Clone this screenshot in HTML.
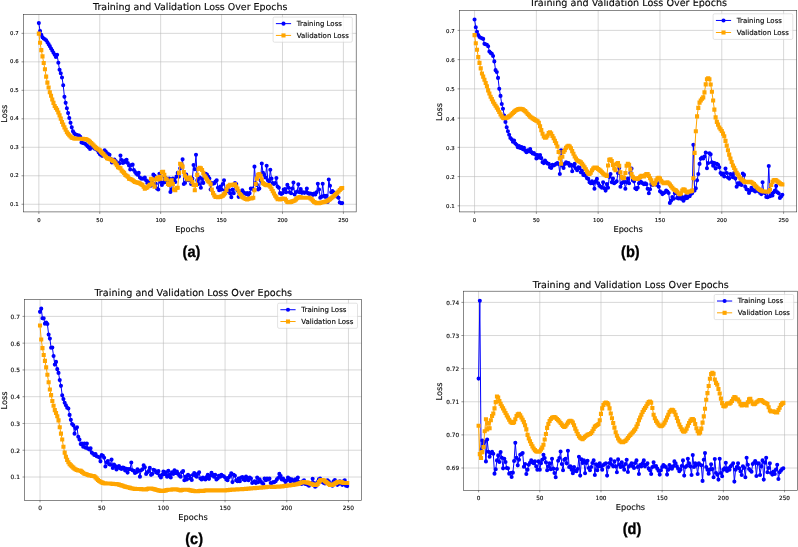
<!DOCTYPE html>
<html lang="en"><head><meta charset="utf-8"><title>Training and Validation Loss Over Epochs</title>
<style>
html,body{margin:0;padding:0;background:#fff}
body{width:798px;height:547px;overflow:hidden}
svg{display:block}
svg text{font-family:"DejaVu Sans","Liberation Sans",sans-serif;fill:#0a0a0a;stroke:#0a0a0a;stroke-width:0.14px;text-rendering:geometricPrecision}
svg text.cap{font-family:"Liberation Sans",sans-serif;font-weight:bold;font-size:16px;fill:#000;stroke:#000;stroke-width:0.35px}
</style></head><body>
<svg width="798" height="547" viewBox="0 0 798 547">
<rect width="798" height="547" fill="#fff"/>
<g class="chart" id="chart-a">
<path d="M38.85 14.40V211.90M99.76 14.40V211.90M160.67 14.40V211.90M221.58 14.40V211.90M282.49 14.40V211.90M343.40 14.40V211.90M23.50 204.25H356.20M23.50 175.77H356.20M23.50 147.28H356.20M23.50 118.80H356.20M23.50 90.32H356.20M23.50 61.83H356.20M23.50 33.35H356.20" stroke="#b8b8b8" stroke-width="0.55" fill="none"/>
<clipPath id="clip-a"><rect x="23.5" y="14.4" width="332.7" height="197.5"/></clipPath>
<g clip-path="url(#clip-a)">
<polyline points="38.85,23.10 40.07,31.07 41.29,34.77 42.50,37.34 43.72,38.48 44.94,39.33 46.16,40.19 47.38,42.18 48.60,44.17 49.81,46.17 51.03,48.45 52.25,50.44 53.47,52.72 54.69,54.71 55.90,56.99 57.12,54.71 58.34,62.69 59.56,69.81 60.78,73.23 62.00,77.50 63.21,85.19 64.43,96.87 65.65,102.85 66.87,108.26 68.09,113.10 69.30,117.95 70.52,122.79 71.74,127.34 72.96,131.33 74.18,133.33 75.40,134.47 76.61,134.75 77.83,135.32 79.05,135.61 80.27,136.74 81.49,142.44 82.71,143.01 83.92,143.30 85.14,143.87 86.36,145.00 87.58,146.14 88.80,147.57 90.01,148.99 91.23,146.71 92.45,147.28 93.67,147.85 94.89,148.71 96.11,149.28 97.32,150.13 98.54,152.13 99.76,154.12 100.98,154.97 102.20,155.83 103.41,152.98 104.63,150.42 105.85,151.84 107.07,153.26 108.29,154.12 109.51,154.69 110.72,158.68 111.94,162.38 113.16,160.96 114.38,159.53 115.60,160.96 116.81,162.38 118.03,162.95 119.25,163.52 120.47,155.54 121.69,160.10 122.91,162.95 124.12,162.38 125.34,160.67 126.56,159.82 127.78,162.95 129.00,165.51 130.21,169.50 131.43,164.94 132.65,164.66 133.87,170.07 135.09,172.06 136.31,173.77 137.52,174.63 138.74,172.92 139.96,177.48 141.18,178.62 142.40,178.62 143.62,178.62 144.83,177.48 146.05,180.32 147.27,182.89 148.49,181.46 149.71,184.31 150.92,185.74 152.14,182.89 153.36,174.63 154.58,175.77 155.80,183.74 157.02,188.58 158.23,189.44 159.45,173.77 160.67,182.03 161.89,184.88 163.11,182.89 164.32,176.62 165.54,182.03 166.76,178.62 167.98,182.03 169.20,178.62 170.42,192.00 171.63,189.44 172.85,178.62 174.07,179.47 175.29,182.03 176.51,176.62 177.72,172.92 178.94,176.62 180.16,168.36 181.38,164.37 182.60,159.25 183.82,184.03 185.03,182.89 186.25,174.63 187.47,180.04 188.69,180.32 189.91,179.75 191.12,184.03 192.34,178.62 193.56,164.94 194.78,169.22 196.00,154.69 197.22,180.32 198.43,184.03 199.65,177.48 200.87,187.73 202.09,178.62 203.31,182.89 204.53,174.63 205.74,173.77 206.96,174.63 208.18,176.62 209.40,178.62 210.62,189.44 211.83,183.17 213.05,183.74 214.27,183.17 215.49,181.46 216.71,180.32 217.93,187.73 219.14,190.29 220.36,186.59 221.58,189.44 222.80,184.03 224.02,180.32 225.23,190.29 226.45,191.43 227.67,187.73 228.89,190.29 230.11,193.14 231.33,197.13 232.54,189.44 233.76,193.14 234.98,183.17 236.20,184.03 237.42,190.29 238.63,196.84 239.85,192.29 241.07,193.14 242.29,190.29 243.51,192.29 244.73,193.14 245.94,194.00 247.16,193.14 248.38,194.85 249.60,193.14 250.82,188.58 252.03,188.58 253.25,189.44 254.47,166.65 255.69,183.17 256.91,184.88 258.13,189.44 259.34,188.58 260.56,180.32 261.78,163.52 263.00,172.92 264.22,174.91 265.44,177.48 266.65,165.80 267.87,180.32 269.09,181.46 270.31,169.79 271.53,178.62 272.74,183.17 273.96,184.03 275.18,183.17 276.40,178.05 277.62,186.59 278.84,187.73 280.05,193.14 281.27,194.00 282.49,193.14 283.71,189.44 284.93,189.15 286.14,192.29 287.36,184.88 288.58,187.73 289.80,192.29 291.02,193.14 292.24,188.58 293.45,182.60 294.67,194.57 295.89,192.29 297.11,191.43 298.33,184.31 299.54,192.29 300.76,189.15 301.98,192.86 303.20,192.29 304.42,192.86 305.64,192.29 306.85,188.58 308.07,193.14 309.29,194.00 310.51,193.43 311.73,194.00 312.94,194.85 314.16,193.43 315.38,194.57 316.60,192.29 317.82,183.74 319.04,189.44 320.25,197.70 321.47,196.84 322.69,183.74 323.91,195.70 325.13,196.84 326.35,195.70 327.56,201.97 328.78,179.47 330.00,185.74 331.22,192.29 332.44,191.15 333.65,192.29 334.87,194.00 336.09,195.70 337.31,196.84 338.53,197.70 339.75,202.54 340.96,203.11 342.18,203.11" fill="none" stroke="#0000ff" stroke-width="1.0" stroke-linejoin="round"/>
<path d="M38.85 23.10h0M40.07 31.07h0M41.29 34.77h0M42.50 37.34h0M43.72 38.48h0M44.94 39.33h0M46.16 40.19h0M47.38 42.18h0M48.60 44.17h0M49.81 46.17h0M51.03 48.45h0M52.25 50.44h0M53.47 52.72h0M54.69 54.71h0M55.90 56.99h0M57.12 54.71h0M58.34 62.69h0M59.56 69.81h0M60.78 73.23h0M62.00 77.50h0M63.21 85.19h0M64.43 96.87h0M65.65 102.85h0M66.87 108.26h0M68.09 113.10h0M69.30 117.95h0M70.52 122.79h0M71.74 127.34h0M72.96 131.33h0M74.18 133.33h0M75.40 134.47h0M76.61 134.75h0M77.83 135.32h0M79.05 135.61h0M80.27 136.74h0M81.49 142.44h0M82.71 143.01h0M83.92 143.30h0M85.14 143.87h0M86.36 145.00h0M87.58 146.14h0M88.80 147.57h0M90.01 148.99h0M91.23 146.71h0M92.45 147.28h0M93.67 147.85h0M94.89 148.71h0M96.11 149.28h0M97.32 150.13h0M98.54 152.13h0M99.76 154.12h0M100.98 154.97h0M102.20 155.83h0M103.41 152.98h0M104.63 150.42h0M105.85 151.84h0M107.07 153.26h0M108.29 154.12h0M109.51 154.69h0M110.72 158.68h0M111.94 162.38h0M113.16 160.96h0M114.38 159.53h0M115.60 160.96h0M116.81 162.38h0M118.03 162.95h0M119.25 163.52h0M120.47 155.54h0M121.69 160.10h0M122.91 162.95h0M124.12 162.38h0M125.34 160.67h0M126.56 159.82h0M127.78 162.95h0M129.00 165.51h0M130.21 169.50h0M131.43 164.94h0M132.65 164.66h0M133.87 170.07h0M135.09 172.06h0M136.31 173.77h0M137.52 174.63h0M138.74 172.92h0M139.96 177.48h0M141.18 178.62h0M142.40 178.62h0M143.62 178.62h0M144.83 177.48h0M146.05 180.32h0M147.27 182.89h0M148.49 181.46h0M149.71 184.31h0M150.92 185.74h0M152.14 182.89h0M153.36 174.63h0M154.58 175.77h0M155.80 183.74h0M157.02 188.58h0M158.23 189.44h0M159.45 173.77h0M160.67 182.03h0M161.89 184.88h0M163.11 182.89h0M164.32 176.62h0M165.54 182.03h0M166.76 178.62h0M167.98 182.03h0M169.20 178.62h0M170.42 192.00h0M171.63 189.44h0M172.85 178.62h0M174.07 179.47h0M175.29 182.03h0M176.51 176.62h0M177.72 172.92h0M178.94 176.62h0M180.16 168.36h0M181.38 164.37h0M182.60 159.25h0M183.82 184.03h0M185.03 182.89h0M186.25 174.63h0M187.47 180.04h0M188.69 180.32h0M189.91 179.75h0M191.12 184.03h0M192.34 178.62h0M193.56 164.94h0M194.78 169.22h0M196.00 154.69h0M197.22 180.32h0M198.43 184.03h0M199.65 177.48h0M200.87 187.73h0M202.09 178.62h0M203.31 182.89h0M204.53 174.63h0M205.74 173.77h0M206.96 174.63h0M208.18 176.62h0M209.40 178.62h0M210.62 189.44h0M211.83 183.17h0M213.05 183.74h0M214.27 183.17h0M215.49 181.46h0M216.71 180.32h0M217.93 187.73h0M219.14 190.29h0M220.36 186.59h0M221.58 189.44h0M222.80 184.03h0M224.02 180.32h0M225.23 190.29h0M226.45 191.43h0M227.67 187.73h0M228.89 190.29h0M230.11 193.14h0M231.33 197.13h0M232.54 189.44h0M233.76 193.14h0M234.98 183.17h0M236.20 184.03h0M237.42 190.29h0M238.63 196.84h0M239.85 192.29h0M241.07 193.14h0M242.29 190.29h0M243.51 192.29h0M244.73 193.14h0M245.94 194.00h0M247.16 193.14h0M248.38 194.85h0M249.60 193.14h0M250.82 188.58h0M252.03 188.58h0M253.25 189.44h0M254.47 166.65h0M255.69 183.17h0M256.91 184.88h0M258.13 189.44h0M259.34 188.58h0M260.56 180.32h0M261.78 163.52h0M263.00 172.92h0M264.22 174.91h0M265.44 177.48h0M266.65 165.80h0M267.87 180.32h0M269.09 181.46h0M270.31 169.79h0M271.53 178.62h0M272.74 183.17h0M273.96 184.03h0M275.18 183.17h0M276.40 178.05h0M277.62 186.59h0M278.84 187.73h0M280.05 193.14h0M281.27 194.00h0M282.49 193.14h0M283.71 189.44h0M284.93 189.15h0M286.14 192.29h0M287.36 184.88h0M288.58 187.73h0M289.80 192.29h0M291.02 193.14h0M292.24 188.58h0M293.45 182.60h0M294.67 194.57h0M295.89 192.29h0M297.11 191.43h0M298.33 184.31h0M299.54 192.29h0M300.76 189.15h0M301.98 192.86h0M303.20 192.29h0M304.42 192.86h0M305.64 192.29h0M306.85 188.58h0M308.07 193.14h0M309.29 194.00h0M310.51 193.43h0M311.73 194.00h0M312.94 194.85h0M314.16 193.43h0M315.38 194.57h0M316.60 192.29h0M317.82 183.74h0M319.04 189.44h0M320.25 197.70h0M321.47 196.84h0M322.69 183.74h0M323.91 195.70h0M325.13 196.84h0M326.35 195.70h0M327.56 201.97h0M328.78 179.47h0M330.00 185.74h0M331.22 192.29h0M332.44 191.15h0M333.65 192.29h0M334.87 194.00h0M336.09 195.70h0M337.31 196.84h0M338.53 197.70h0M339.75 202.54h0M340.96 203.11h0M342.18 203.11h0" stroke="#0000ff" stroke-width="4.1" stroke-linecap="round" fill="none"/>
</g>
<g clip-path="url(#clip-a)">
<polyline points="38.85,33.63 40.07,42.75 41.29,50.16 42.50,56.42 43.72,62.97 44.94,69.24 46.16,76.64 47.38,82.63 48.60,87.47 49.81,92.31 51.03,95.73 52.25,99.43 53.47,102.85 54.69,105.98 55.90,107.98 57.12,109.69 58.34,112.53 59.56,115.38 60.78,118.66 62.00,121.93 63.21,124.64 64.43,127.34 65.65,129.77 66.87,132.19 68.09,133.75 69.30,135.32 70.52,136.46 71.74,137.60 72.96,138.03 74.18,138.45 75.40,138.60 76.61,138.74 77.83,138.74 79.05,138.74 80.27,138.74 81.49,138.74 82.71,138.88 83.92,139.02 85.14,139.17 86.36,139.31 87.58,140.02 88.80,140.73 90.01,141.87 91.23,143.01 92.45,144.29 93.67,145.57 94.89,146.71 96.11,147.85 97.32,148.71 98.54,149.56 99.76,150.42 100.98,151.65 102.20,152.89 103.41,154.12 104.63,155.45 105.85,156.78 107.07,158.11 108.29,158.58 109.51,159.06 110.72,159.53 111.94,160.20 113.16,160.86 114.38,161.53 115.60,163.42 116.81,165.32 118.03,167.22 119.25,167.79 120.47,168.36 121.69,170.64 122.91,171.78 124.12,172.92 125.34,174.91 126.56,175.77 127.78,176.62 129.00,178.62 130.21,179.04 131.43,179.47 132.65,180.32 133.87,181.18 135.09,182.03 136.31,182.32 137.52,182.60 138.74,182.89 139.96,183.55 141.18,184.22 142.40,184.88 143.62,186.73 144.83,188.58 146.05,188.01 147.27,187.44 148.49,186.16 149.71,184.88 150.92,178.90 152.14,184.03 153.36,179.47 154.58,186.59 155.80,179.47 157.02,178.05 158.23,179.47 159.45,176.91 160.67,178.62 161.89,172.06 163.11,171.78 164.32,174.91 165.54,178.90 166.76,179.47 167.98,184.03 169.20,184.88 170.42,181.18 171.63,180.32 172.85,184.03 174.07,189.44 175.29,190.29 176.51,188.01 177.72,187.73 178.94,172.92 180.16,163.80 181.38,164.66 182.60,166.65 183.82,172.06 185.03,175.77 186.25,177.48 187.47,179.47 188.69,178.05 189.91,177.48 191.12,179.47 192.34,182.03 193.56,184.88 194.78,190.29 196.00,184.88 197.22,174.91 198.43,168.93 199.65,167.79 200.87,168.36 202.09,170.07 203.31,172.92 204.53,175.77 205.74,177.48 206.96,179.47 208.18,181.18 209.40,182.32 210.62,184.31 211.83,189.44 213.05,193.14 214.27,195.42 215.49,196.84 216.71,196.99 217.93,197.13 219.14,196.99 220.36,196.84 221.58,196.27 222.80,195.70 224.02,194.42 225.23,193.14 226.45,189.87 227.67,186.59 228.89,185.74 230.11,184.88 231.33,184.88 232.54,184.88 233.76,184.60 234.98,184.31 236.20,186.45 237.42,188.58 238.63,191.29 239.85,194.00 241.07,195.42 242.29,196.84 243.51,197.70 244.73,198.55 245.94,198.98 247.16,199.41 248.38,198.98 249.60,198.55 250.82,198.41 252.03,198.27 253.25,197.70 254.47,190.29 255.69,184.03 256.91,178.62 258.13,174.91 259.34,174.06 260.56,175.77 261.78,179.47 263.00,183.17 264.22,184.03 265.44,184.88 266.65,185.17 267.87,185.17 269.09,185.45 270.31,186.59 271.53,188.87 272.74,191.15 273.96,193.43 275.18,195.70 276.40,197.41 277.62,199.12 278.84,199.27 280.05,199.41 281.27,198.98 282.49,198.55 283.71,198.70 284.93,198.84 286.14,200.40 287.36,201.97 288.58,202.11 289.80,202.26 291.02,201.83 292.24,201.40 293.45,200.97 294.67,200.55 295.89,199.41 297.11,198.27 298.33,197.70 299.54,197.13 300.76,197.41 301.98,197.70 303.20,197.70 304.42,197.70 305.64,197.70 306.85,197.70 308.07,197.70 309.29,197.70 310.51,198.55 311.73,199.41 312.94,200.69 314.16,201.97 315.38,202.54 316.60,203.11 317.82,203.11 319.04,203.11 320.25,202.83 321.47,202.54 322.69,202.26 323.91,201.97 325.13,201.69 326.35,201.40 327.56,200.69 328.78,199.98 330.00,199.12 331.22,198.27 332.44,197.27 333.65,196.27 334.87,195.14 336.09,194.00 337.31,192.71 338.53,191.43 339.75,190.01 340.96,188.58 342.18,188.01" fill="none" stroke="#ffa500" stroke-width="1.0" stroke-linejoin="round"/>
<path d="M36.80 33.63h4.1M38.02 42.75h4.1M39.24 50.16h4.1M40.45 56.42h4.1M41.67 62.97h4.1M42.89 69.24h4.1M44.11 76.64h4.1M45.33 82.63h4.1M46.55 87.47h4.1M47.76 92.31h4.1M48.98 95.73h4.1M50.20 99.43h4.1M51.42 102.85h4.1M52.64 105.98h4.1M53.85 107.98h4.1M55.07 109.69h4.1M56.29 112.53h4.1M57.51 115.38h4.1M58.73 118.66h4.1M59.95 121.93h4.1M61.16 124.64h4.1M62.38 127.34h4.1M63.60 129.77h4.1M64.82 132.19h4.1M66.04 133.75h4.1M67.25 135.32h4.1M68.47 136.46h4.1M69.69 137.60h4.1M70.91 138.03h4.1M72.13 138.45h4.1M73.35 138.60h4.1M74.56 138.74h4.1M75.78 138.74h4.1M77.00 138.74h4.1M78.22 138.74h4.1M79.44 138.74h4.1M80.66 138.88h4.1M81.87 139.02h4.1M83.09 139.17h4.1M84.31 139.31h4.1M85.53 140.02h4.1M86.75 140.73h4.1M87.96 141.87h4.1M89.18 143.01h4.1M90.40 144.29h4.1M91.62 145.57h4.1M92.84 146.71h4.1M94.06 147.85h4.1M95.27 148.71h4.1M96.49 149.56h4.1M97.71 150.42h4.1M98.93 151.65h4.1M100.15 152.89h4.1M101.36 154.12h4.1M102.58 155.45h4.1M103.80 156.78h4.1M105.02 158.11h4.1M106.24 158.58h4.1M107.46 159.06h4.1M108.67 159.53h4.1M109.89 160.20h4.1M111.11 160.86h4.1M112.33 161.53h4.1M113.55 163.42h4.1M114.76 165.32h4.1M115.98 167.22h4.1M117.20 167.79h4.1M118.42 168.36h4.1M119.64 170.64h4.1M120.86 171.78h4.1M122.07 172.92h4.1M123.29 174.91h4.1M124.51 175.77h4.1M125.73 176.62h4.1M126.95 178.62h4.1M128.16 179.04h4.1M129.38 179.47h4.1M130.60 180.32h4.1M131.82 181.18h4.1M133.04 182.03h4.1M134.26 182.32h4.1M135.47 182.60h4.1M136.69 182.89h4.1M137.91 183.55h4.1M139.13 184.22h4.1M140.35 184.88h4.1M141.57 186.73h4.1M142.78 188.58h4.1M144.00 188.01h4.1M145.22 187.44h4.1M146.44 186.16h4.1M147.66 184.88h4.1M148.87 178.90h4.1M150.09 184.03h4.1M151.31 179.47h4.1M152.53 186.59h4.1M153.75 179.47h4.1M154.97 178.05h4.1M156.18 179.47h4.1M157.40 176.91h4.1M158.62 178.62h4.1M159.84 172.06h4.1M161.06 171.78h4.1M162.27 174.91h4.1M163.49 178.90h4.1M164.71 179.47h4.1M165.93 184.03h4.1M167.15 184.88h4.1M168.37 181.18h4.1M169.58 180.32h4.1M170.80 184.03h4.1M172.02 189.44h4.1M173.24 190.29h4.1M174.46 188.01h4.1M175.67 187.73h4.1M176.89 172.92h4.1M178.11 163.80h4.1M179.33 164.66h4.1M180.55 166.65h4.1M181.77 172.06h4.1M182.98 175.77h4.1M184.20 177.48h4.1M185.42 179.47h4.1M186.64 178.05h4.1M187.86 177.48h4.1M189.07 179.47h4.1M190.29 182.03h4.1M191.51 184.88h4.1M192.73 190.29h4.1M193.95 184.88h4.1M195.17 174.91h4.1M196.38 168.93h4.1M197.60 167.79h4.1M198.82 168.36h4.1M200.04 170.07h4.1M201.26 172.92h4.1M202.48 175.77h4.1M203.69 177.48h4.1M204.91 179.47h4.1M206.13 181.18h4.1M207.35 182.32h4.1M208.57 184.31h4.1M209.78 189.44h4.1M211.00 193.14h4.1M212.22 195.42h4.1M213.44 196.84h4.1M214.66 196.99h4.1M215.88 197.13h4.1M217.09 196.99h4.1M218.31 196.84h4.1M219.53 196.27h4.1M220.75 195.70h4.1M221.97 194.42h4.1M223.18 193.14h4.1M224.40 189.87h4.1M225.62 186.59h4.1M226.84 185.74h4.1M228.06 184.88h4.1M229.28 184.88h4.1M230.49 184.88h4.1M231.71 184.60h4.1M232.93 184.31h4.1M234.15 186.45h4.1M235.37 188.58h4.1M236.58 191.29h4.1M237.80 194.00h4.1M239.02 195.42h4.1M240.24 196.84h4.1M241.46 197.70h4.1M242.68 198.55h4.1M243.89 198.98h4.1M245.11 199.41h4.1M246.33 198.98h4.1M247.55 198.55h4.1M248.77 198.41h4.1M249.98 198.27h4.1M251.20 197.70h4.1M252.42 190.29h4.1M253.64 184.03h4.1M254.86 178.62h4.1M256.08 174.91h4.1M257.29 174.06h4.1M258.51 175.77h4.1M259.73 179.47h4.1M260.95 183.17h4.1M262.17 184.03h4.1M263.39 184.88h4.1M264.60 185.17h4.1M265.82 185.17h4.1M267.04 185.45h4.1M268.26 186.59h4.1M269.48 188.87h4.1M270.69 191.15h4.1M271.91 193.43h4.1M273.13 195.70h4.1M274.35 197.41h4.1M275.57 199.12h4.1M276.79 199.27h4.1M278.00 199.41h4.1M279.22 198.98h4.1M280.44 198.55h4.1M281.66 198.70h4.1M282.88 198.84h4.1M284.09 200.40h4.1M285.31 201.97h4.1M286.53 202.11h4.1M287.75 202.26h4.1M288.97 201.83h4.1M290.19 201.40h4.1M291.40 200.97h4.1M292.62 200.55h4.1M293.84 199.41h4.1M295.06 198.27h4.1M296.28 197.70h4.1M297.49 197.13h4.1M298.71 197.41h4.1M299.93 197.70h4.1M301.15 197.70h4.1M302.37 197.70h4.1M303.59 197.70h4.1M304.80 197.70h4.1M306.02 197.70h4.1M307.24 197.70h4.1M308.46 198.55h4.1M309.68 199.41h4.1M310.89 200.69h4.1M312.11 201.97h4.1M313.33 202.54h4.1M314.55 203.11h4.1M315.77 203.11h4.1M316.99 203.11h4.1M318.20 202.83h4.1M319.42 202.54h4.1M320.64 202.26h4.1M321.86 201.97h4.1M323.08 201.69h4.1M324.30 201.40h4.1M325.51 200.69h4.1M326.73 199.98h4.1M327.95 199.12h4.1M329.17 198.27h4.1M330.39 197.27h4.1M331.60 196.27h4.1M332.82 195.14h4.1M334.04 194.00h4.1M335.26 192.71h4.1M336.48 191.43h4.1M337.70 190.01h4.1M338.91 188.58h4.1M340.13 188.01h4.1" stroke="#ffa500" stroke-width="4.1" fill="none"/>
</g>
<rect x="23.5" y="14.4" width="332.7" height="197.5" fill="none" stroke="#3a3a3a" stroke-width="0.6"/>
<path d="M38.85 211.90v2M99.76 211.90v2M160.67 211.90v2M221.58 211.90v2M282.49 211.90v2M343.40 211.90v2M23.50 204.25h-2M23.50 175.77h-2M23.50 147.28h-2M23.50 118.80h-2M23.50 90.32h-2M23.50 61.83h-2M23.50 33.35h-2" stroke="#333" stroke-width="0.5" fill="none"/>
<text x="38.85" y="221.60" font-size="5.35" text-anchor="middle">0</text>
<text x="99.76" y="221.60" font-size="5.35" text-anchor="middle">50</text>
<text x="160.67" y="221.60" font-size="5.35" text-anchor="middle">100</text>
<text x="221.58" y="221.60" font-size="5.35" text-anchor="middle">150</text>
<text x="282.49" y="221.60" font-size="5.35" text-anchor="middle">200</text>
<text x="343.40" y="221.60" font-size="5.35" text-anchor="middle">250</text>
<text x="18.60" y="205.90" font-size="5.35" text-anchor="end">0.1</text>
<text x="18.60" y="177.42" font-size="5.35" text-anchor="end">0.2</text>
<text x="18.60" y="148.93" font-size="5.35" text-anchor="end">0.3</text>
<text x="18.60" y="120.45" font-size="5.35" text-anchor="end">0.4</text>
<text x="18.60" y="91.97" font-size="5.35" text-anchor="end">0.5</text>
<text x="18.60" y="63.48" font-size="5.35" text-anchor="end">0.6</text>
<text x="18.60" y="35.00" font-size="5.35" text-anchor="end">0.7</text>
<text x="190.30" y="10.10" font-size="9.475" text-anchor="middle">Training and Validation Loss Over Epochs</text>
<text x="189.85" y="231.80" font-size="8.2" text-anchor="middle">Epochs</text>
<text transform="translate(6.85 113.70) rotate(-90)" font-size="8.2" text-anchor="middle">Loss</text>
<rect x="273.1" y="17.1" width="79.19999999999999" height="25.1" rx="1.4" fill="#fff" fill-opacity="0.8" stroke="#d0d0d0" stroke-width="0.6"/>
<path d="M275.90 23.63h15.2" stroke="#0000ff" stroke-width="1.0"/>
<circle cx="283.50" cy="23.63" r="2.05" fill="#0000ff"/>
<text x="296.75" y="26.03" font-size="7.0">Training Loss</text>
<path d="M275.90 35.42h15.2" stroke="#ffa500" stroke-width="1.0"/>
<rect x="281.45" y="33.37" width="4.1" height="4.1" fill="#ffa500"/>
<text x="296.75" y="37.82" font-size="7.0">Validation Loss</text>
<text transform="translate(191.5 256.6) scale(0.91 1)" class="cap" text-anchor="middle">(a)</text>
</g>
<g class="chart" id="chart-b">
<path d="M474.55 10.60V211.90M536.36 10.60V211.90M598.17 10.60V211.90M659.98 10.60V211.90M721.79 10.60V211.90M783.60 10.60V211.90M459.60 205.80H796.70M459.60 176.57H796.70M459.60 147.33H796.70M459.60 118.10H796.70M459.60 88.87H796.70M459.60 59.63H796.70M459.60 30.40H796.70" stroke="#b8b8b8" stroke-width="0.55" fill="none"/>
<clipPath id="clip-b"><rect x="459.6" y="10.6" width="337.1" height="201.3"/></clipPath>
<g clip-path="url(#clip-b)">
<polyline points="474.55,19.44 475.79,27.18 477.02,31.86 478.26,35.08 479.49,36.98 480.73,37.71 481.97,38.29 483.20,38.88 484.44,43.85 485.68,44.29 486.91,44.72 488.15,46.19 489.38,51.59 490.62,52.91 491.86,53.79 493.09,55.98 494.33,61.39 495.57,70.16 496.80,72.06 498.04,77.90 499.27,88.87 500.51,95.88 501.75,104.07 502.98,108.75 504.22,115.47 505.45,121.90 506.69,127.28 507.93,131.25 509.16,134.76 510.40,137.98 511.64,139.24 512.87,141.63 514.11,140.61 515.34,143.53 516.58,144.70 517.82,147.16 519.05,146.05 520.29,147.92 521.53,147.16 522.76,149.09 524.00,147.92 525.23,150.84 526.47,152.13 527.71,150.26 528.94,151.13 530.18,149.09 531.42,152.13 532.65,153.47 533.89,153.03 535.12,154.50 536.36,158.56 537.60,154.93 538.83,157.56 540.07,154.93 541.30,158.15 542.54,162.24 543.78,163.12 545.01,160.49 546.25,162.42 547.49,163.50 548.72,163.88 549.96,167.21 551.19,167.91 552.43,164.87 553.67,165.46 554.90,164.87 556.14,163.88 557.38,162.97 558.61,163.88 559.85,173.94 561.08,150.26 562.32,165.75 563.56,167.91 564.79,163.88 566.03,162.42 567.26,163.50 568.50,162.97 569.74,165.75 570.97,164.87 572.21,171.30 573.45,165.75 574.68,163.88 575.92,168.47 577.15,170.31 578.39,167.21 579.63,167.91 580.86,172.18 582.10,170.87 583.34,174.90 584.57,173.94 585.81,175.84 587.04,178.32 588.28,178.91 589.52,182.27 590.75,183.29 591.99,181.36 593.23,183.29 594.46,188.70 595.70,181.36 596.93,178.91 598.17,183.29 599.41,185.63 600.64,186.80 601.88,187.79 603.11,182.27 604.35,188.26 605.59,190.60 606.82,184.17 608.06,187.79 609.30,176.86 610.53,173.94 611.77,182.27 613.00,178.61 614.24,183.29 615.48,182.27 616.71,181.36 617.95,173.06 619.19,167.91 620.42,186.80 621.66,183.29 622.89,182.27 624.13,181.36 625.37,188.70 626.60,182.27 627.84,178.61 629.08,183.29 630.31,173.06 631.55,168.47 632.78,180.37 634.02,181.36 635.26,188.26 636.49,189.25 637.73,187.79 638.96,183.29 640.20,181.36 641.44,182.27 642.67,183.29 643.91,184.17 645.15,183.29 646.38,184.17 647.62,188.70 648.85,193.23 650.09,189.25 651.33,184.17 652.56,185.04 653.80,183.88 655.04,183.00 656.27,184.75 657.51,183.00 658.74,186.80 659.98,191.18 661.22,192.35 662.45,194.11 663.69,193.23 664.92,192.35 666.16,190.60 667.40,191.48 668.63,192.94 669.87,202.88 671.11,200.65 672.34,197.03 673.58,198.78 674.81,193.23 676.05,192.35 677.29,197.91 678.52,198.49 679.76,197.32 681.00,198.78 682.23,197.03 683.47,200.65 684.70,198.78 685.94,196.15 687.18,197.91 688.41,196.62 689.65,196.15 690.88,194.11 692.12,193.23 693.36,144.85 694.59,190.60 695.83,188.26 697.07,180.37 698.30,173.94 699.54,163.88 700.77,158.73 702.01,157.45 703.25,158.44 704.48,156.51 705.72,152.48 706.96,168.18 708.19,162.97 709.43,153.18 710.66,154.35 711.90,162.42 713.14,165.75 714.37,162.97 715.61,168.47 716.85,163.88 718.08,164.87 719.32,167.21 720.55,173.06 721.79,174.52 723.03,173.64 724.26,176.57 725.50,168.47 726.73,173.06 727.97,177.44 729.21,178.61 730.44,173.94 731.68,174.90 732.92,177.15 734.15,173.06 735.39,178.61 736.62,186.80 737.86,183.29 739.10,184.17 740.33,182.27 741.57,185.04 742.81,173.44 744.04,174.90 745.28,186.80 746.51,189.25 747.75,189.72 748.99,192.94 750.22,190.60 751.46,187.79 752.69,189.72 753.93,190.60 755.17,191.48 756.40,189.25 757.64,188.70 758.88,191.48 760.11,192.94 761.35,194.11 762.58,182.27 763.82,192.35 765.06,193.23 766.29,197.03 767.53,197.32 768.77,166.04 770.00,196.15 771.24,194.11 772.47,195.57 773.71,192.35 774.95,190.60 776.18,185.92 777.42,192.35 778.66,193.23 779.89,197.91 781.13,196.62 782.36,194.69" fill="none" stroke="#0000ff" stroke-width="1.0" stroke-linejoin="round"/>
<path d="M474.55 19.44h0M475.79 27.18h0M477.02 31.86h0M478.26 35.08h0M479.49 36.98h0M480.73 37.71h0M481.97 38.29h0M483.20 38.88h0M484.44 43.85h0M485.68 44.29h0M486.91 44.72h0M488.15 46.19h0M489.38 51.59h0M490.62 52.91h0M491.86 53.79h0M493.09 55.98h0M494.33 61.39h0M495.57 70.16h0M496.80 72.06h0M498.04 77.90h0M499.27 88.87h0M500.51 95.88h0M501.75 104.07h0M502.98 108.75h0M504.22 115.47h0M505.45 121.90h0M506.69 127.28h0M507.93 131.25h0M509.16 134.76h0M510.40 137.98h0M511.64 139.24h0M512.87 141.63h0M514.11 140.61h0M515.34 143.53h0M516.58 144.70h0M517.82 147.16h0M519.05 146.05h0M520.29 147.92h0M521.53 147.16h0M522.76 149.09h0M524.00 147.92h0M525.23 150.84h0M526.47 152.13h0M527.71 150.26h0M528.94 151.13h0M530.18 149.09h0M531.42 152.13h0M532.65 153.47h0M533.89 153.03h0M535.12 154.50h0M536.36 158.56h0M537.60 154.93h0M538.83 157.56h0M540.07 154.93h0M541.30 158.15h0M542.54 162.24h0M543.78 163.12h0M545.01 160.49h0M546.25 162.42h0M547.49 163.50h0M548.72 163.88h0M549.96 167.21h0M551.19 167.91h0M552.43 164.87h0M553.67 165.46h0M554.90 164.87h0M556.14 163.88h0M557.38 162.97h0M558.61 163.88h0M559.85 173.94h0M561.08 150.26h0M562.32 165.75h0M563.56 167.91h0M564.79 163.88h0M566.03 162.42h0M567.26 163.50h0M568.50 162.97h0M569.74 165.75h0M570.97 164.87h0M572.21 171.30h0M573.45 165.75h0M574.68 163.88h0M575.92 168.47h0M577.15 170.31h0M578.39 167.21h0M579.63 167.91h0M580.86 172.18h0M582.10 170.87h0M583.34 174.90h0M584.57 173.94h0M585.81 175.84h0M587.04 178.32h0M588.28 178.91h0M589.52 182.27h0M590.75 183.29h0M591.99 181.36h0M593.23 183.29h0M594.46 188.70h0M595.70 181.36h0M596.93 178.91h0M598.17 183.29h0M599.41 185.63h0M600.64 186.80h0M601.88 187.79h0M603.11 182.27h0M604.35 188.26h0M605.59 190.60h0M606.82 184.17h0M608.06 187.79h0M609.30 176.86h0M610.53 173.94h0M611.77 182.27h0M613.00 178.61h0M614.24 183.29h0M615.48 182.27h0M616.71 181.36h0M617.95 173.06h0M619.19 167.91h0M620.42 186.80h0M621.66 183.29h0M622.89 182.27h0M624.13 181.36h0M625.37 188.70h0M626.60 182.27h0M627.84 178.61h0M629.08 183.29h0M630.31 173.06h0M631.55 168.47h0M632.78 180.37h0M634.02 181.36h0M635.26 188.26h0M636.49 189.25h0M637.73 187.79h0M638.96 183.29h0M640.20 181.36h0M641.44 182.27h0M642.67 183.29h0M643.91 184.17h0M645.15 183.29h0M646.38 184.17h0M647.62 188.70h0M648.85 193.23h0M650.09 189.25h0M651.33 184.17h0M652.56 185.04h0M653.80 183.88h0M655.04 183.00h0M656.27 184.75h0M657.51 183.00h0M658.74 186.80h0M659.98 191.18h0M661.22 192.35h0M662.45 194.11h0M663.69 193.23h0M664.92 192.35h0M666.16 190.60h0M667.40 191.48h0M668.63 192.94h0M669.87 202.88h0M671.11 200.65h0M672.34 197.03h0M673.58 198.78h0M674.81 193.23h0M676.05 192.35h0M677.29 197.91h0M678.52 198.49h0M679.76 197.32h0M681.00 198.78h0M682.23 197.03h0M683.47 200.65h0M684.70 198.78h0M685.94 196.15h0M687.18 197.91h0M688.41 196.62h0M689.65 196.15h0M690.88 194.11h0M692.12 193.23h0M693.36 144.85h0M694.59 190.60h0M695.83 188.26h0M697.07 180.37h0M698.30 173.94h0M699.54 163.88h0M700.77 158.73h0M702.01 157.45h0M703.25 158.44h0M704.48 156.51h0M705.72 152.48h0M706.96 168.18h0M708.19 162.97h0M709.43 153.18h0M710.66 154.35h0M711.90 162.42h0M713.14 165.75h0M714.37 162.97h0M715.61 168.47h0M716.85 163.88h0M718.08 164.87h0M719.32 167.21h0M720.55 173.06h0M721.79 174.52h0M723.03 173.64h0M724.26 176.57h0M725.50 168.47h0M726.73 173.06h0M727.97 177.44h0M729.21 178.61h0M730.44 173.94h0M731.68 174.90h0M732.92 177.15h0M734.15 173.06h0M735.39 178.61h0M736.62 186.80h0M737.86 183.29h0M739.10 184.17h0M740.33 182.27h0M741.57 185.04h0M742.81 173.44h0M744.04 174.90h0M745.28 186.80h0M746.51 189.25h0M747.75 189.72h0M748.99 192.94h0M750.22 190.60h0M751.46 187.79h0M752.69 189.72h0M753.93 190.60h0M755.17 191.48h0M756.40 189.25h0M757.64 188.70h0M758.88 191.48h0M760.11 192.94h0M761.35 194.11h0M762.58 182.27h0M763.82 192.35h0M765.06 193.23h0M766.29 197.03h0M767.53 197.32h0M768.77 166.04h0M770.00 196.15h0M771.24 194.11h0M772.47 195.57h0M773.71 192.35h0M774.95 190.60h0M776.18 185.92h0M777.42 192.35h0M778.66 193.23h0M779.89 197.91h0M781.13 196.62h0M782.36 194.69h0" stroke="#0000ff" stroke-width="4.1" stroke-linecap="round" fill="none"/>
</g>
<g clip-path="url(#clip-b)">
<polyline points="474.55,35.08 475.79,43.26 477.02,49.69 478.26,57.00 479.49,62.85 480.73,68.40 481.97,73.52 483.20,76.59 484.44,79.80 485.68,83.02 486.91,86.24 488.15,90.33 489.38,93.54 490.62,96.76 491.86,99.10 493.09,101.58 494.33,103.78 495.57,105.82 496.80,107.58 498.04,109.62 499.27,111.96 500.51,114.42 501.75,116.35 502.98,117.81 504.22,118.10 505.45,118.10 506.69,117.66 507.93,117.22 509.16,116.35 510.40,115.47 511.64,114.21 512.87,112.95 514.11,111.87 515.34,110.79 516.58,110.06 517.82,109.33 519.05,109.11 520.29,108.89 521.53,109.11 522.76,109.33 524.00,110.21 525.23,111.08 526.47,112.55 527.71,114.01 528.94,115.32 530.18,116.64 531.42,117.52 532.65,118.39 533.89,119.12 535.12,119.85 536.36,120.58 537.60,121.32 538.83,122.78 540.07,126.29 541.30,130.09 542.54,133.74 543.78,136.52 545.01,137.69 546.25,137.39 547.49,135.64 548.72,133.01 549.96,132.42 551.19,133.59 552.43,135.93 553.67,138.27 554.90,140.90 556.14,143.24 557.38,146.46 558.61,152.01 559.85,158.44 561.08,163.70 562.32,156.69 563.56,152.01 564.79,150.26 566.03,147.71 567.26,146.46 568.50,145.87 569.74,146.46 570.97,148.21 572.21,151.13 573.45,153.76 574.68,156.51 575.92,158.44 577.15,160.20 578.39,161.07 579.63,161.66 580.86,162.42 582.10,163.88 583.34,165.46 584.57,167.21 585.81,169.40 587.04,171.60 588.28,173.44 589.52,173.94 590.75,172.77 591.99,170.31 593.23,168.47 594.46,167.50 595.70,167.50 596.93,167.91 598.17,169.02 599.41,169.84 600.64,170.87 601.88,172.18 603.11,173.44 604.35,174.52 605.59,175.28 606.82,175.84 608.06,165.46 609.30,159.90 610.53,159.32 611.77,161.07 613.00,164.87 614.24,168.47 615.48,170.31 616.71,163.88 617.95,162.97 619.19,165.75 620.42,172.18 621.66,176.86 622.89,178.32 624.13,177.74 625.37,173.06 626.60,165.75 627.84,163.88 629.08,164.87 630.31,169.40 631.55,173.94 632.78,176.86 634.02,178.32 635.26,178.61 636.49,178.32 637.73,178.91 638.96,178.03 640.20,176.86 641.44,175.84 642.67,175.84 643.91,176.57 645.15,175.28 646.38,173.94 647.62,173.94 648.85,175.84 650.09,178.32 651.33,180.37 652.56,182.71 653.80,184.46 655.04,183.29 656.27,180.37 657.51,178.32 658.74,177.74 659.98,178.61 661.22,180.81 662.45,182.27 663.69,183.29 664.92,183.29 666.16,182.71 667.40,182.27 668.63,183.29 669.87,184.46 671.11,186.30 672.34,187.79 673.58,189.25 674.81,190.01 676.05,190.60 677.29,191.77 678.52,193.23 679.76,194.11 681.00,193.23 682.23,190.60 683.47,189.25 684.70,189.72 685.94,191.48 687.18,192.35 688.41,191.77 689.65,191.48 690.88,191.18 692.12,190.60 693.36,178.32 694.59,152.89 695.83,131.25 697.07,116.35 698.30,107.87 699.54,102.61 700.77,100.56 702.01,98.81 703.25,97.34 704.48,92.37 705.72,84.34 706.96,79.22 708.19,78.34 709.43,79.22 710.66,84.48 711.90,91.79 713.14,100.56 714.37,109.62 715.61,117.37 716.85,121.90 718.08,124.65 719.32,127.45 720.55,129.21 721.79,130.96 723.03,133.59 724.26,136.22 725.50,140.90 726.73,145.58 727.97,150.26 729.21,154.64 730.44,158.44 731.68,161.95 732.92,165.46 734.15,167.91 735.39,170.31 736.62,172.77 737.86,174.52 739.10,176.57 740.33,178.32 741.57,179.49 742.81,180.37 744.04,181.36 745.28,181.83 746.51,182.27 747.75,182.27 748.99,181.83 750.22,181.83 751.46,182.27 752.69,183.29 753.93,184.17 755.17,185.63 756.40,186.80 757.64,188.26 758.88,189.25 760.11,190.01 761.35,190.60 762.58,191.18 763.82,191.48 765.06,191.48 766.29,191.77 767.53,191.77 768.77,191.48 770.00,189.72 771.24,185.04 772.47,181.83 773.71,180.37 774.95,180.07 776.18,180.37 777.42,181.36 778.66,182.27 779.89,183.29 781.13,184.17 782.36,184.46" fill="none" stroke="#ffa500" stroke-width="1.0" stroke-linejoin="round"/>
<path d="M472.50 35.08h4.1M473.74 43.26h4.1M474.97 49.69h4.1M476.21 57.00h4.1M477.44 62.85h4.1M478.68 68.40h4.1M479.92 73.52h4.1M481.15 76.59h4.1M482.39 79.80h4.1M483.63 83.02h4.1M484.86 86.24h4.1M486.10 90.33h4.1M487.33 93.54h4.1M488.57 96.76h4.1M489.81 99.10h4.1M491.04 101.58h4.1M492.28 103.78h4.1M493.52 105.82h4.1M494.75 107.58h4.1M495.99 109.62h4.1M497.22 111.96h4.1M498.46 114.42h4.1M499.70 116.35h4.1M500.93 117.81h4.1M502.17 118.10h4.1M503.40 118.10h4.1M504.64 117.66h4.1M505.88 117.22h4.1M507.11 116.35h4.1M508.35 115.47h4.1M509.59 114.21h4.1M510.82 112.95h4.1M512.06 111.87h4.1M513.29 110.79h4.1M514.53 110.06h4.1M515.77 109.33h4.1M517.00 109.11h4.1M518.24 108.89h4.1M519.48 109.11h4.1M520.71 109.33h4.1M521.95 110.21h4.1M523.18 111.08h4.1M524.42 112.55h4.1M525.66 114.01h4.1M526.89 115.32h4.1M528.13 116.64h4.1M529.37 117.52h4.1M530.60 118.39h4.1M531.84 119.12h4.1M533.07 119.85h4.1M534.31 120.58h4.1M535.55 121.32h4.1M536.78 122.78h4.1M538.02 126.29h4.1M539.25 130.09h4.1M540.49 133.74h4.1M541.73 136.52h4.1M542.96 137.69h4.1M544.20 137.39h4.1M545.44 135.64h4.1M546.67 133.01h4.1M547.91 132.42h4.1M549.14 133.59h4.1M550.38 135.93h4.1M551.62 138.27h4.1M552.85 140.90h4.1M554.09 143.24h4.1M555.33 146.46h4.1M556.56 152.01h4.1M557.80 158.44h4.1M559.03 163.70h4.1M560.27 156.69h4.1M561.51 152.01h4.1M562.74 150.26h4.1M563.98 147.71h4.1M565.22 146.46h4.1M566.45 145.87h4.1M567.69 146.46h4.1M568.92 148.21h4.1M570.16 151.13h4.1M571.40 153.76h4.1M572.63 156.51h4.1M573.87 158.44h4.1M575.10 160.20h4.1M576.34 161.07h4.1M577.58 161.66h4.1M578.81 162.42h4.1M580.05 163.88h4.1M581.29 165.46h4.1M582.52 167.21h4.1M583.76 169.40h4.1M584.99 171.60h4.1M586.23 173.44h4.1M587.47 173.94h4.1M588.70 172.77h4.1M589.94 170.31h4.1M591.18 168.47h4.1M592.41 167.50h4.1M593.65 167.50h4.1M594.88 167.91h4.1M596.12 169.02h4.1M597.36 169.84h4.1M598.59 170.87h4.1M599.83 172.18h4.1M601.06 173.44h4.1M602.30 174.52h4.1M603.54 175.28h4.1M604.77 175.84h4.1M606.01 165.46h4.1M607.25 159.90h4.1M608.48 159.32h4.1M609.72 161.07h4.1M610.95 164.87h4.1M612.19 168.47h4.1M613.43 170.31h4.1M614.66 163.88h4.1M615.90 162.97h4.1M617.14 165.75h4.1M618.37 172.18h4.1M619.61 176.86h4.1M620.84 178.32h4.1M622.08 177.74h4.1M623.32 173.06h4.1M624.55 165.75h4.1M625.79 163.88h4.1M627.03 164.87h4.1M628.26 169.40h4.1M629.50 173.94h4.1M630.73 176.86h4.1M631.97 178.32h4.1M633.21 178.61h4.1M634.44 178.32h4.1M635.68 178.91h4.1M636.91 178.03h4.1M638.15 176.86h4.1M639.39 175.84h4.1M640.62 175.84h4.1M641.86 176.57h4.1M643.10 175.28h4.1M644.33 173.94h4.1M645.57 173.94h4.1M646.80 175.84h4.1M648.04 178.32h4.1M649.28 180.37h4.1M650.51 182.71h4.1M651.75 184.46h4.1M652.99 183.29h4.1M654.22 180.37h4.1M655.46 178.32h4.1M656.69 177.74h4.1M657.93 178.61h4.1M659.17 180.81h4.1M660.40 182.27h4.1M661.64 183.29h4.1M662.87 183.29h4.1M664.11 182.71h4.1M665.35 182.27h4.1M666.58 183.29h4.1M667.82 184.46h4.1M669.06 186.30h4.1M670.29 187.79h4.1M671.53 189.25h4.1M672.76 190.01h4.1M674.00 190.60h4.1M675.24 191.77h4.1M676.47 193.23h4.1M677.71 194.11h4.1M678.95 193.23h4.1M680.18 190.60h4.1M681.42 189.25h4.1M682.65 189.72h4.1M683.89 191.48h4.1M685.13 192.35h4.1M686.36 191.77h4.1M687.60 191.48h4.1M688.84 191.18h4.1M690.07 190.60h4.1M691.31 178.32h4.1M692.54 152.89h4.1M693.78 131.25h4.1M695.02 116.35h4.1M696.25 107.87h4.1M697.49 102.61h4.1M698.72 100.56h4.1M699.96 98.81h4.1M701.20 97.34h4.1M702.43 92.37h4.1M703.67 84.34h4.1M704.91 79.22h4.1M706.14 78.34h4.1M707.38 79.22h4.1M708.61 84.48h4.1M709.85 91.79h4.1M711.09 100.56h4.1M712.32 109.62h4.1M713.56 117.37h4.1M714.80 121.90h4.1M716.03 124.65h4.1M717.27 127.45h4.1M718.50 129.21h4.1M719.74 130.96h4.1M720.98 133.59h4.1M722.21 136.22h4.1M723.45 140.90h4.1M724.68 145.58h4.1M725.92 150.26h4.1M727.16 154.64h4.1M728.39 158.44h4.1M729.63 161.95h4.1M730.87 165.46h4.1M732.10 167.91h4.1M733.34 170.31h4.1M734.57 172.77h4.1M735.81 174.52h4.1M737.05 176.57h4.1M738.28 178.32h4.1M739.52 179.49h4.1M740.76 180.37h4.1M741.99 181.36h4.1M743.23 181.83h4.1M744.46 182.27h4.1M745.70 182.27h4.1M746.94 181.83h4.1M748.17 181.83h4.1M749.41 182.27h4.1M750.64 183.29h4.1M751.88 184.17h4.1M753.12 185.63h4.1M754.35 186.80h4.1M755.59 188.26h4.1M756.83 189.25h4.1M758.06 190.01h4.1M759.30 190.60h4.1M760.53 191.18h4.1M761.77 191.48h4.1M763.01 191.48h4.1M764.24 191.77h4.1M765.48 191.77h4.1M766.72 191.48h4.1M767.95 189.72h4.1M769.19 185.04h4.1M770.42 181.83h4.1M771.66 180.37h4.1M772.90 180.07h4.1M774.13 180.37h4.1M775.37 181.36h4.1M776.61 182.27h4.1M777.84 183.29h4.1M779.08 184.17h4.1M780.31 184.46h4.1" stroke="#ffa500" stroke-width="4.1" fill="none"/>
</g>
<rect x="459.6" y="10.6" width="337.1" height="201.3" fill="none" stroke="#3a3a3a" stroke-width="0.6"/>
<path d="M474.55 211.90v2M536.36 211.90v2M598.17 211.90v2M659.98 211.90v2M721.79 211.90v2M783.60 211.90v2M459.60 205.80h-2M459.60 176.57h-2M459.60 147.33h-2M459.60 118.10h-2M459.60 88.87h-2M459.60 59.63h-2M459.60 30.40h-2" stroke="#333" stroke-width="0.5" fill="none"/>
<text x="474.55" y="221.60" font-size="5.4" text-anchor="middle">0</text>
<text x="536.36" y="221.60" font-size="5.4" text-anchor="middle">50</text>
<text x="598.17" y="221.60" font-size="5.4" text-anchor="middle">100</text>
<text x="659.98" y="221.60" font-size="5.4" text-anchor="middle">150</text>
<text x="721.79" y="221.60" font-size="5.4" text-anchor="middle">200</text>
<text x="783.60" y="221.60" font-size="5.4" text-anchor="middle">250</text>
<text x="454.70" y="208.20" font-size="5.4" text-anchor="end">0.1</text>
<text x="454.70" y="178.97" font-size="5.4" text-anchor="end">0.2</text>
<text x="454.70" y="149.73" font-size="5.4" text-anchor="end">0.3</text>
<text x="454.70" y="120.50" font-size="5.4" text-anchor="end">0.4</text>
<text x="454.70" y="91.27" font-size="5.4" text-anchor="end">0.5</text>
<text x="454.70" y="62.03" font-size="5.4" text-anchor="end">0.6</text>
<text x="454.70" y="32.80" font-size="5.4" text-anchor="end">0.7</text>
<text x="628.30" y="6.45" font-size="9.63" text-anchor="middle">Training and Validation Loss Over Epochs</text>
<text x="628.15" y="231.80" font-size="8.2" text-anchor="middle">Epochs</text>
<text transform="translate(441.90 111.90) rotate(-90)" font-size="8.2" text-anchor="middle">Loss</text>
<rect x="713.1" y="13.8" width="79.69999999999993" height="25.599999999999998" rx="1.4" fill="#fff" fill-opacity="0.8" stroke="#d0d0d0" stroke-width="0.6"/>
<path d="M715.90 20.46h15.2" stroke="#0000ff" stroke-width="1.0"/>
<circle cx="723.50" cy="20.46" r="2.05" fill="#0000ff"/>
<text x="736.75" y="22.86" font-size="7.0">Training Loss</text>
<path d="M715.90 32.49h15.2" stroke="#ffa500" stroke-width="1.0"/>
<rect x="721.45" y="30.44" width="4.1" height="4.1" fill="#ffa500"/>
<text x="736.75" y="34.89" font-size="7.0">Validation Loss</text>
<text transform="translate(630.4 256.6) scale(0.91 1)" class="cap" text-anchor="middle">(b)</text>
</g>
<g class="chart" id="chart-c">
<path d="M40.00 299.60V500.30M101.69 299.60V500.30M163.38 299.60V500.30M225.07 299.60V500.30M286.76 299.60V500.30M348.45 299.60V500.30M24.50 477.00H361.50M24.50 450.23H361.50M24.50 423.47H361.50M24.50 396.70H361.50M24.50 369.93H361.50M24.50 343.17H361.50M24.50 316.40H361.50" stroke="#b8b8b8" stroke-width="0.55" fill="none"/>
<clipPath id="clip-c"><rect x="24.5" y="299.6" width="337.0" height="200.7"/></clipPath>
<g clip-path="url(#clip-c)">
<polyline points="40.00,311.85 41.23,308.64 42.47,318.27 43.70,318.27 44.94,323.63 46.17,322.56 47.40,324.06 48.64,334.60 49.87,338.62 51.10,347.72 52.34,347.45 53.57,356.01 54.81,364.58 56.04,361.90 57.27,369.13 58.51,372.88 59.74,380.10 60.97,385.86 62.21,395.36 63.44,399.11 64.68,402.70 65.91,405.27 67.14,407.67 68.38,408.48 69.61,414.90 70.84,419.83 72.08,424.00 73.31,425.34 74.55,433.64 75.78,428.55 77.01,427.21 78.25,436.85 79.48,439.53 80.72,444.08 81.95,443.54 83.18,446.75 84.42,443.54 85.65,447.69 86.88,443.54 88.12,448.63 89.35,449.51 90.59,448.23 91.82,452.64 93.05,453.71 94.29,455.05 95.52,454.06 96.75,456.23 97.99,456.79 99.22,457.33 100.46,461.34 101.69,455.05 102.92,455.85 104.16,457.73 105.39,466.43 106.63,462.28 107.86,460.94 109.09,464.15 110.33,464.82 111.56,459.60 112.79,467.98 114.03,464.53 115.26,466.03 116.50,469.43 117.73,466.69 118.96,465.95 120.20,468.35 121.43,468.97 122.66,467.63 123.90,467.90 125.13,470.44 126.37,468.70 127.60,472.58 128.83,468.97 130.07,468.97 131.30,462.44 132.53,470.31 133.77,470.84 135.00,472.99 136.24,472.18 137.47,469.34 138.70,470.84 139.94,476.63 141.17,470.31 142.41,469.34 143.64,465.36 144.87,467.18 146.11,473.90 147.34,472.18 148.57,471.16 149.81,467.90 151.04,474.86 152.28,473.90 153.51,469.77 154.74,470.31 155.98,472.18 157.21,472.99 158.44,471.16 159.68,475.72 160.91,477.54 162.15,474.86 163.38,471.65 164.61,473.90 165.85,472.18 167.08,476.63 168.32,470.84 169.55,474.86 170.78,477.54 172.02,472.18 173.25,473.90 174.48,470.31 175.72,472.99 176.95,471.65 178.19,473.90 179.42,475.72 180.65,476.63 181.89,472.18 183.12,471.16 184.35,480.27 185.59,476.63 186.82,479.41 188.06,474.86 189.29,475.72 190.52,478.45 191.76,479.94 192.99,474.86 194.22,472.99 195.46,475.72 196.69,476.63 197.93,473.90 199.16,472.18 200.39,478.45 201.63,479.41 202.86,477.54 204.10,478.45 205.33,479.41 206.56,477.00 207.80,474.86 209.03,478.87 210.26,475.72 211.50,472.72 212.73,474.86 213.97,476.63 215.20,474.86 216.43,479.41 217.67,478.45 218.90,475.72 220.13,476.63 221.37,474.86 222.60,475.72 223.84,476.28 225.07,477.54 226.30,479.41 227.54,480.27 228.77,477.54 230.01,475.72 231.24,473.36 232.47,482.09 233.71,474.86 234.94,475.72 236.17,480.27 237.41,481.18 238.64,478.45 239.88,481.18 241.11,477.54 242.34,477.00 243.58,479.41 244.81,480.27 246.04,476.63 247.28,479.41 248.51,480.27 249.75,477.54 250.98,478.45 252.21,483.00 253.45,482.09 254.68,481.18 255.91,483.00 257.15,477.54 258.38,482.09 259.62,479.41 260.85,481.18 262.08,483.00 263.32,483.96 264.55,478.45 265.79,480.27 267.02,478.45 268.25,479.41 269.49,478.45 270.72,483.00 271.95,483.00 273.19,482.09 274.42,482.09 275.66,481.18 276.89,479.41 278.12,478.07 279.36,473.90 280.59,475.72 281.82,479.41 283.06,478.45 284.29,480.27 285.53,482.09 286.76,480.27 287.99,477.54 289.23,478.45 290.46,481.18 291.70,479.41 292.93,480.27 294.16,481.18 295.40,479.41 296.63,481.18 297.86,477.54 299.10,482.09 300.33,483.00 301.57,483.96 302.80,481.18 304.03,480.27 305.27,483.96 306.50,483.00 307.73,484.84 308.97,485.75 310.20,483.96 311.44,483.00 312.67,478.87 313.90,483.00 315.14,486.64 316.37,485.75 317.61,482.09 318.84,479.41 320.07,478.45 321.31,480.21 322.54,482.09 323.77,483.00 325.01,483.56 326.24,481.18 327.48,480.27 328.71,481.18 329.94,483.00 331.18,484.84 332.41,485.75 333.64,481.18 334.88,479.94 336.11,483.00 337.35,484.84 338.58,483.96 339.81,481.18 341.05,483.00 342.28,484.84 343.51,481.18 344.75,480.27 345.98,485.75 347.22,486.10" fill="none" stroke="#0000ff" stroke-width="1.0" stroke-linejoin="round"/>
<path d="M40.00 311.85h0M41.23 308.64h0M42.47 318.27h0M43.70 318.27h0M44.94 323.63h0M46.17 322.56h0M47.40 324.06h0M48.64 334.60h0M49.87 338.62h0M51.10 347.72h0M52.34 347.45h0M53.57 356.01h0M54.81 364.58h0M56.04 361.90h0M57.27 369.13h0M58.51 372.88h0M59.74 380.10h0M60.97 385.86h0M62.21 395.36h0M63.44 399.11h0M64.68 402.70h0M65.91 405.27h0M67.14 407.67h0M68.38 408.48h0M69.61 414.90h0M70.84 419.83h0M72.08 424.00h0M73.31 425.34h0M74.55 433.64h0M75.78 428.55h0M77.01 427.21h0M78.25 436.85h0M79.48 439.53h0M80.72 444.08h0M81.95 443.54h0M83.18 446.75h0M84.42 443.54h0M85.65 447.69h0M86.88 443.54h0M88.12 448.63h0M89.35 449.51h0M90.59 448.23h0M91.82 452.64h0M93.05 453.71h0M94.29 455.05h0M95.52 454.06h0M96.75 456.23h0M97.99 456.79h0M99.22 457.33h0M100.46 461.34h0M101.69 455.05h0M102.92 455.85h0M104.16 457.73h0M105.39 466.43h0M106.63 462.28h0M107.86 460.94h0M109.09 464.15h0M110.33 464.82h0M111.56 459.60h0M112.79 467.98h0M114.03 464.53h0M115.26 466.03h0M116.50 469.43h0M117.73 466.69h0M118.96 465.95h0M120.20 468.35h0M121.43 468.97h0M122.66 467.63h0M123.90 467.90h0M125.13 470.44h0M126.37 468.70h0M127.60 472.58h0M128.83 468.97h0M130.07 468.97h0M131.30 462.44h0M132.53 470.31h0M133.77 470.84h0M135.00 472.99h0M136.24 472.18h0M137.47 469.34h0M138.70 470.84h0M139.94 476.63h0M141.17 470.31h0M142.41 469.34h0M143.64 465.36h0M144.87 467.18h0M146.11 473.90h0M147.34 472.18h0M148.57 471.16h0M149.81 467.90h0M151.04 474.86h0M152.28 473.90h0M153.51 469.77h0M154.74 470.31h0M155.98 472.18h0M157.21 472.99h0M158.44 471.16h0M159.68 475.72h0M160.91 477.54h0M162.15 474.86h0M163.38 471.65h0M164.61 473.90h0M165.85 472.18h0M167.08 476.63h0M168.32 470.84h0M169.55 474.86h0M170.78 477.54h0M172.02 472.18h0M173.25 473.90h0M174.48 470.31h0M175.72 472.99h0M176.95 471.65h0M178.19 473.90h0M179.42 475.72h0M180.65 476.63h0M181.89 472.18h0M183.12 471.16h0M184.35 480.27h0M185.59 476.63h0M186.82 479.41h0M188.06 474.86h0M189.29 475.72h0M190.52 478.45h0M191.76 479.94h0M192.99 474.86h0M194.22 472.99h0M195.46 475.72h0M196.69 476.63h0M197.93 473.90h0M199.16 472.18h0M200.39 478.45h0M201.63 479.41h0M202.86 477.54h0M204.10 478.45h0M205.33 479.41h0M206.56 477.00h0M207.80 474.86h0M209.03 478.87h0M210.26 475.72h0M211.50 472.72h0M212.73 474.86h0M213.97 476.63h0M215.20 474.86h0M216.43 479.41h0M217.67 478.45h0M218.90 475.72h0M220.13 476.63h0M221.37 474.86h0M222.60 475.72h0M223.84 476.28h0M225.07 477.54h0M226.30 479.41h0M227.54 480.27h0M228.77 477.54h0M230.01 475.72h0M231.24 473.36h0M232.47 482.09h0M233.71 474.86h0M234.94 475.72h0M236.17 480.27h0M237.41 481.18h0M238.64 478.45h0M239.88 481.18h0M241.11 477.54h0M242.34 477.00h0M243.58 479.41h0M244.81 480.27h0M246.04 476.63h0M247.28 479.41h0M248.51 480.27h0M249.75 477.54h0M250.98 478.45h0M252.21 483.00h0M253.45 482.09h0M254.68 481.18h0M255.91 483.00h0M257.15 477.54h0M258.38 482.09h0M259.62 479.41h0M260.85 481.18h0M262.08 483.00h0M263.32 483.96h0M264.55 478.45h0M265.79 480.27h0M267.02 478.45h0M268.25 479.41h0M269.49 478.45h0M270.72 483.00h0M271.95 483.00h0M273.19 482.09h0M274.42 482.09h0M275.66 481.18h0M276.89 479.41h0M278.12 478.07h0M279.36 473.90h0M280.59 475.72h0M281.82 479.41h0M283.06 478.45h0M284.29 480.27h0M285.53 482.09h0M286.76 480.27h0M287.99 477.54h0M289.23 478.45h0M290.46 481.18h0M291.70 479.41h0M292.93 480.27h0M294.16 481.18h0M295.40 479.41h0M296.63 481.18h0M297.86 477.54h0M299.10 482.09h0M300.33 483.00h0M301.57 483.96h0M302.80 481.18h0M304.03 480.27h0M305.27 483.96h0M306.50 483.00h0M307.73 484.84h0M308.97 485.75h0M310.20 483.96h0M311.44 483.00h0M312.67 478.87h0M313.90 483.00h0M315.14 486.64h0M316.37 485.75h0M317.61 482.09h0M318.84 479.41h0M320.07 478.45h0M321.31 480.21h0M322.54 482.09h0M323.77 483.00h0M325.01 483.56h0M326.24 481.18h0M327.48 480.27h0M328.71 481.18h0M329.94 483.00h0M331.18 484.84h0M332.41 485.75h0M333.64 481.18h0M334.88 479.94h0M336.11 483.00h0M337.35 484.84h0M338.58 483.96h0M339.81 481.18h0M341.05 483.00h0M342.28 484.84h0M343.51 481.18h0M344.75 480.27h0M345.98 485.75h0M347.22 486.10h0" stroke="#0000ff" stroke-width="4.1" stroke-linecap="round" fill="none"/>
</g>
<g clip-path="url(#clip-c)">
<polyline points="40.00,325.50 41.23,339.53 42.47,348.09 43.70,354.94 44.94,360.83 46.17,367.39 47.40,374.75 48.64,382.25 49.87,389.47 51.10,395.09 52.34,400.98 53.57,405.80 54.81,410.08 56.04,413.03 57.27,416.24 58.51,420.36 59.74,427.21 60.97,433.64 62.21,439.53 63.44,446.75 64.68,452.64 65.91,456.79 67.14,459.87 68.38,462.28 69.61,464.15 70.84,465.36 72.08,466.56 73.31,467.63 74.55,468.70 75.78,469.51 77.01,470.04 78.25,470.44 79.48,470.44 80.72,470.84 81.95,471.91 83.18,472.72 84.42,473.79 85.65,474.06 86.88,474.46 88.12,474.99 89.35,475.39 90.59,475.55 91.82,475.93 93.05,475.93 94.29,476.28 95.52,477.37 96.75,478.61 97.99,479.94 99.22,481.01 100.46,481.74 101.69,482.35 102.92,482.89 104.16,483.29 105.39,483.42 106.63,483.56 107.86,483.56 109.09,483.56 110.33,483.56 111.56,483.69 112.79,483.83 114.03,483.96 115.26,484.05 116.50,484.14 117.73,484.23 118.96,484.61 120.20,484.99 121.43,485.38 122.66,485.80 123.90,486.22 125.13,486.64 126.37,486.95 127.60,487.26 128.83,487.57 130.07,487.89 131.30,488.20 132.53,488.51 133.77,488.69 135.00,488.87 136.24,489.04 137.47,489.04 138.70,489.04 139.94,489.04 141.17,489.16 142.41,489.28 143.64,489.39 144.87,489.39 146.11,489.39 147.34,488.95 148.57,488.51 149.81,488.51 151.04,488.51 152.28,488.78 153.51,489.04 154.74,489.39 155.98,489.74 157.21,490.06 158.44,490.38 159.68,490.65 160.91,490.92 162.15,490.92 163.38,490.92 164.61,490.65 165.85,490.38 167.08,490.06 168.32,489.74 169.55,489.74 170.78,489.74 172.02,489.57 173.25,489.39 174.48,489.39 175.72,489.39 176.95,489.57 178.19,489.74 179.42,490.06 180.65,490.38 181.89,490.06 183.12,489.74 184.35,489.74 185.59,489.74 186.82,489.74 188.06,489.74 189.29,490.06 190.52,490.38 191.76,490.65 192.99,490.92 194.22,491.05 195.46,491.19 196.69,491.19 197.93,491.19 199.16,491.05 200.39,490.92 201.63,490.92 202.86,490.92 204.10,490.69 205.33,490.46 206.56,490.42 207.80,490.38 209.03,490.38 210.26,490.38 211.50,490.38 212.73,490.38 213.97,490.38 215.20,490.38 216.43,490.38 217.67,490.38 218.90,490.38 220.13,490.38 221.37,490.38 222.60,490.38 223.84,490.38 225.07,490.38 226.30,490.25 227.54,490.13 228.77,490.00 230.01,489.87 231.24,489.74 232.47,489.67 233.71,489.60 234.94,489.53 236.17,489.46 237.41,489.39 238.64,489.32 239.88,489.25 241.11,489.18 242.34,489.11 243.58,489.04 244.81,488.94 246.04,488.83 247.28,488.72 248.51,488.62 249.75,488.51 250.98,488.40 252.21,488.30 253.45,488.19 254.68,488.08 255.91,487.97 257.15,487.89 258.38,487.81 259.62,487.73 260.85,487.65 262.08,487.57 263.32,487.41 264.55,487.25 265.79,487.09 267.02,486.93 268.25,486.77 269.49,486.80 270.72,486.82 271.95,486.85 273.19,486.88 274.42,486.90 275.66,486.82 276.89,486.74 278.12,486.66 279.36,486.58 280.59,486.50 281.82,486.35 283.06,486.20 284.29,486.05 285.53,485.90 286.76,485.75 287.99,485.57 289.23,485.39 290.46,485.21 291.70,485.02 292.93,484.84 294.16,484.64 295.40,484.43 296.63,484.23 297.86,483.89 299.10,483.56 300.33,482.96 301.57,482.35 302.80,482.22 304.03,482.09 305.27,482.22 306.50,482.35 307.73,482.67 308.97,483.00 310.20,483.48 311.44,483.96 312.67,484.40 313.90,484.84 315.14,484.84 316.37,484.84 317.61,483.96 318.84,482.09 320.07,480.64 321.31,479.94 322.54,479.94 323.77,480.27 325.01,481.18 326.24,482.09 327.48,483.00 328.71,483.96 329.94,484.84 331.18,484.84 332.41,484.84 333.64,484.23 334.88,483.56 336.11,483.00 337.35,482.09 338.58,481.74 339.81,481.74 341.05,482.09 342.28,482.35 343.51,483.00 344.75,483.00 345.98,483.00 347.22,483.00" fill="none" stroke="#ffa500" stroke-width="1.0" stroke-linejoin="round"/>
<path d="M37.95 325.50h4.1M39.18 339.53h4.1M40.42 348.09h4.1M41.65 354.94h4.1M42.89 360.83h4.1M44.12 367.39h4.1M45.35 374.75h4.1M46.59 382.25h4.1M47.82 389.47h4.1M49.05 395.09h4.1M50.29 400.98h4.1M51.52 405.80h4.1M52.76 410.08h4.1M53.99 413.03h4.1M55.22 416.24h4.1M56.46 420.36h4.1M57.69 427.21h4.1M58.92 433.64h4.1M60.16 439.53h4.1M61.39 446.75h4.1M62.63 452.64h4.1M63.86 456.79h4.1M65.09 459.87h4.1M66.33 462.28h4.1M67.56 464.15h4.1M68.80 465.36h4.1M70.03 466.56h4.1M71.26 467.63h4.1M72.50 468.70h4.1M73.73 469.51h4.1M74.96 470.04h4.1M76.20 470.44h4.1M77.43 470.44h4.1M78.67 470.84h4.1M79.90 471.91h4.1M81.13 472.72h4.1M82.37 473.79h4.1M83.60 474.06h4.1M84.83 474.46h4.1M86.07 474.99h4.1M87.30 475.39h4.1M88.54 475.55h4.1M89.77 475.93h4.1M91.00 475.93h4.1M92.24 476.28h4.1M93.47 477.37h4.1M94.70 478.61h4.1M95.94 479.94h4.1M97.17 481.01h4.1M98.41 481.74h4.1M99.64 482.35h4.1M100.87 482.89h4.1M102.11 483.29h4.1M103.34 483.42h4.1M104.58 483.56h4.1M105.81 483.56h4.1M107.04 483.56h4.1M108.28 483.56h4.1M109.51 483.69h4.1M110.74 483.83h4.1M111.98 483.96h4.1M113.21 484.05h4.1M114.45 484.14h4.1M115.68 484.23h4.1M116.91 484.61h4.1M118.15 484.99h4.1M119.38 485.38h4.1M120.61 485.80h4.1M121.85 486.22h4.1M123.08 486.64h4.1M124.32 486.95h4.1M125.55 487.26h4.1M126.78 487.57h4.1M128.02 487.89h4.1M129.25 488.20h4.1M130.48 488.51h4.1M131.72 488.69h4.1M132.95 488.87h4.1M134.19 489.04h4.1M135.42 489.04h4.1M136.65 489.04h4.1M137.89 489.04h4.1M139.12 489.16h4.1M140.36 489.28h4.1M141.59 489.39h4.1M142.82 489.39h4.1M144.06 489.39h4.1M145.29 488.95h4.1M146.52 488.51h4.1M147.76 488.51h4.1M148.99 488.51h4.1M150.23 488.78h4.1M151.46 489.04h4.1M152.69 489.39h4.1M153.93 489.74h4.1M155.16 490.06h4.1M156.39 490.38h4.1M157.63 490.65h4.1M158.86 490.92h4.1M160.10 490.92h4.1M161.33 490.92h4.1M162.56 490.65h4.1M163.80 490.38h4.1M165.03 490.06h4.1M166.27 489.74h4.1M167.50 489.74h4.1M168.73 489.74h4.1M169.97 489.57h4.1M171.20 489.39h4.1M172.43 489.39h4.1M173.67 489.39h4.1M174.90 489.57h4.1M176.14 489.74h4.1M177.37 490.06h4.1M178.60 490.38h4.1M179.84 490.06h4.1M181.07 489.74h4.1M182.30 489.74h4.1M183.54 489.74h4.1M184.77 489.74h4.1M186.01 489.74h4.1M187.24 490.06h4.1M188.47 490.38h4.1M189.71 490.65h4.1M190.94 490.92h4.1M192.17 491.05h4.1M193.41 491.19h4.1M194.64 491.19h4.1M195.88 491.19h4.1M197.11 491.05h4.1M198.34 490.92h4.1M199.58 490.92h4.1M200.81 490.92h4.1M202.05 490.69h4.1M203.28 490.46h4.1M204.51 490.42h4.1M205.75 490.38h4.1M206.98 490.38h4.1M208.21 490.38h4.1M209.45 490.38h4.1M210.68 490.38h4.1M211.92 490.38h4.1M213.15 490.38h4.1M214.38 490.38h4.1M215.62 490.38h4.1M216.85 490.38h4.1M218.08 490.38h4.1M219.32 490.38h4.1M220.55 490.38h4.1M221.79 490.38h4.1M223.02 490.38h4.1M224.25 490.25h4.1M225.49 490.13h4.1M226.72 490.00h4.1M227.96 489.87h4.1M229.19 489.74h4.1M230.42 489.67h4.1M231.66 489.60h4.1M232.89 489.53h4.1M234.12 489.46h4.1M235.36 489.39h4.1M236.59 489.32h4.1M237.83 489.25h4.1M239.06 489.18h4.1M240.29 489.11h4.1M241.53 489.04h4.1M242.76 488.94h4.1M243.99 488.83h4.1M245.23 488.72h4.1M246.46 488.62h4.1M247.70 488.51h4.1M248.93 488.40h4.1M250.16 488.30h4.1M251.40 488.19h4.1M252.63 488.08h4.1M253.86 487.97h4.1M255.10 487.89h4.1M256.33 487.81h4.1M257.57 487.73h4.1M258.80 487.65h4.1M260.03 487.57h4.1M261.27 487.41h4.1M262.50 487.25h4.1M263.74 487.09h4.1M264.97 486.93h4.1M266.20 486.77h4.1M267.44 486.80h4.1M268.67 486.82h4.1M269.90 486.85h4.1M271.14 486.88h4.1M272.37 486.90h4.1M273.61 486.82h4.1M274.84 486.74h4.1M276.07 486.66h4.1M277.31 486.58h4.1M278.54 486.50h4.1M279.77 486.35h4.1M281.01 486.20h4.1M282.24 486.05h4.1M283.48 485.90h4.1M284.71 485.75h4.1M285.94 485.57h4.1M287.18 485.39h4.1M288.41 485.21h4.1M289.65 485.02h4.1M290.88 484.84h4.1M292.11 484.64h4.1M293.35 484.43h4.1M294.58 484.23h4.1M295.81 483.89h4.1M297.05 483.56h4.1M298.28 482.96h4.1M299.52 482.35h4.1M300.75 482.22h4.1M301.98 482.09h4.1M303.22 482.22h4.1M304.45 482.35h4.1M305.68 482.67h4.1M306.92 483.00h4.1M308.15 483.48h4.1M309.39 483.96h4.1M310.62 484.40h4.1M311.85 484.84h4.1M313.09 484.84h4.1M314.32 484.84h4.1M315.56 483.96h4.1M316.79 482.09h4.1M318.02 480.64h4.1M319.26 479.94h4.1M320.49 479.94h4.1M321.72 480.27h4.1M322.96 481.18h4.1M324.19 482.09h4.1M325.43 483.00h4.1M326.66 483.96h4.1M327.89 484.84h4.1M329.13 484.84h4.1M330.36 484.84h4.1M331.59 484.23h4.1M332.83 483.56h4.1M334.06 483.00h4.1M335.30 482.09h4.1M336.53 481.74h4.1M337.76 481.74h4.1M339.00 482.09h4.1M340.23 482.35h4.1M341.46 483.00h4.1M342.70 483.00h4.1M343.93 483.00h4.1M345.17 483.00h4.1" stroke="#ffa500" stroke-width="4.1" fill="none"/>
</g>
<rect x="24.5" y="299.6" width="337.0" height="200.7" fill="none" stroke="#3a3a3a" stroke-width="0.6"/>
<path d="M40.00 500.30v2M101.69 500.30v2M163.38 500.30v2M225.07 500.30v2M286.76 500.30v2M348.45 500.30v2M24.50 477.00h-2M24.50 450.23h-2M24.50 423.47h-2M24.50 396.70h-2M24.50 369.93h-2M24.50 343.17h-2M24.50 316.40h-2" stroke="#333" stroke-width="0.5" fill="none"/>
<text x="40.00" y="510.00" font-size="5.9" text-anchor="middle">0</text>
<text x="101.69" y="510.00" font-size="5.9" text-anchor="middle">50</text>
<text x="163.38" y="510.00" font-size="5.9" text-anchor="middle">100</text>
<text x="225.07" y="510.00" font-size="5.9" text-anchor="middle">150</text>
<text x="286.76" y="510.00" font-size="5.9" text-anchor="middle">200</text>
<text x="348.45" y="510.00" font-size="5.9" text-anchor="middle">250</text>
<text x="19.90" y="479.45" font-size="5.9" text-anchor="end">0.1</text>
<text x="19.90" y="452.68" font-size="5.9" text-anchor="end">0.2</text>
<text x="19.90" y="425.92" font-size="5.9" text-anchor="end">0.3</text>
<text x="19.90" y="399.15" font-size="5.9" text-anchor="end">0.4</text>
<text x="19.90" y="372.38" font-size="5.9" text-anchor="end">0.5</text>
<text x="19.90" y="345.62" font-size="5.9" text-anchor="end">0.6</text>
<text x="19.90" y="318.85" font-size="5.9" text-anchor="end">0.7</text>
<text x="193.25" y="295.70" font-size="9.63" text-anchor="middle">Training and Validation Loss Over Epochs</text>
<text x="193.00" y="520.20" font-size="8.2" text-anchor="middle">Epochs</text>
<text transform="translate(7.30 400.50) rotate(-90)" font-size="8.2" text-anchor="middle">Loss</text>
<rect x="277.6" y="303.2" width="79.89999999999998" height="25.100000000000023" rx="1.4" fill="#fff" fill-opacity="0.8" stroke="#d0d0d0" stroke-width="0.6"/>
<path d="M280.40 309.73h15.2" stroke="#0000ff" stroke-width="1.0"/>
<circle cx="288.00" cy="309.73" r="2.05" fill="#0000ff"/>
<text x="301.25" y="312.13" font-size="7.0">Training Loss</text>
<path d="M280.40 321.52h15.2" stroke="#ffa500" stroke-width="1.0"/>
<rect x="285.95" y="319.47" width="4.1" height="4.1" fill="#ffa500"/>
<text x="301.25" y="323.92" font-size="7.0">Validation Loss</text>
<text transform="translate(194.1 544.1) scale(0.91 1)" class="cap" text-anchor="middle">(c)</text>
</g>
<g class="chart" id="chart-d">
<path d="M478.60 291.20V490.30M539.79 291.20V490.30M600.98 291.20V490.30M662.17 291.20V490.30M723.36 291.20V490.30M784.55 291.20V490.30M463.40 468.00H797.50M463.40 434.88H797.50M463.40 401.76H797.50M463.40 368.64H797.50M463.40 335.52H797.50M463.40 302.40H797.50" stroke="#b8b8b8" stroke-width="0.55" fill="none"/>
<clipPath id="clip-d"><rect x="463.4" y="291.2" width="334.1" height="199.10000000000002"/></clipPath>
<g clip-path="url(#clip-d)">
<polyline points="478.60,378.58 479.82,300.74 481.05,449.45 482.27,440.51 483.50,443.49 484.72,441.84 485.94,461.38 487.17,439.52 488.39,451.77 489.61,456.74 490.84,453.10 492.06,451.77 493.29,453.76 494.51,473.63 495.73,469.32 496.96,460.38 498.18,455.41 499.40,462.04 500.63,452.10 501.85,457.73 503.08,468.33 504.30,458.73 505.52,462.04 506.75,468.00 507.97,468.33 509.19,473.63 510.42,472.97 511.64,476.94 512.87,472.64 514.09,461.04 515.31,442.83 516.54,457.73 517.76,465.35 518.99,459.72 520.21,454.75 521.43,454.09 522.66,453.10 523.88,466.81 525.10,464.03 526.33,473.96 527.55,469.66 528.78,464.69 530.00,462.70 531.22,460.38 532.45,462.04 533.67,463.16 534.89,461.38 536.12,466.34 537.34,469.66 538.57,461.38 539.79,469.66 541.01,463.16 542.24,459.72 543.46,454.75 544.69,458.06 545.91,462.37 547.13,470.32 548.36,466.34 549.58,463.36 550.80,469.32 552.03,458.73 553.25,468.66 554.48,472.97 555.70,477.27 556.92,468.99 558.15,460.71 559.37,458.06 560.59,451.44 561.82,464.03 563.04,470.32 564.27,459.72 565.49,458.73 566.71,463.36 567.94,450.78 569.16,467.01 570.38,466.34 571.61,469.66 572.83,473.30 574.06,467.01 575.28,470.65 576.50,471.31 577.73,468.99 578.95,456.74 580.18,475.62 581.40,459.39 582.62,463.03 583.85,460.38 585.07,473.30 586.29,463.03 587.52,460.71 588.74,468.00 589.97,470.32 591.19,467.01 592.41,463.03 593.64,460.38 594.86,474.96 596.08,464.36 597.31,470.32 598.53,466.34 599.76,463.36 600.98,466.34 602.20,469.66 603.43,465.02 604.65,464.03 605.88,463.36 607.10,475.62 608.32,467.01 609.55,463.03 610.77,459.39 611.99,465.02 613.22,466.34 614.44,461.38 615.67,466.34 616.89,472.31 618.11,459.39 619.34,464.69 620.56,467.01 621.78,462.37 623.01,466.34 624.23,469.66 625.46,464.03 626.68,459.72 627.90,471.97 629.13,466.34 630.35,465.02 631.58,463.36 632.80,466.34 634.02,468.00 635.25,463.03 636.47,460.38 637.69,467.01 638.92,473.96 640.14,465.02 641.37,466.34 642.59,463.36 643.81,460.38 645.04,466.34 646.26,464.69 647.48,463.36 648.71,468.66 649.93,470.32 651.16,473.96 652.38,467.01 653.60,462.37 654.83,466.34 656.05,466.01 657.27,468.66 658.50,470.65 659.72,474.62 660.95,470.32 662.17,467.01 663.39,465.02 664.62,466.01 665.84,467.01 667.07,474.62 668.29,469.66 669.51,465.02 670.74,467.01 671.96,468.66 673.18,466.34 674.41,461.38 675.63,463.36 676.86,466.34 678.08,468.66 679.30,471.31 680.53,469.66 681.75,466.01 682.97,460.38 684.20,475.62 685.42,467.01 686.65,466.01 687.87,458.73 689.09,463.36 690.32,466.34 691.54,474.96 692.76,455.08 693.99,467.01 695.21,463.36 696.44,465.02 697.66,473.96 698.88,463.36 700.11,464.69 701.33,465.35 702.56,480.92 703.78,459.72 705.00,453.10 706.23,467.01 707.45,469.66 708.67,473.63 709.90,469.66 711.12,464.36 712.35,468.99 713.57,477.27 714.79,459.06 716.02,472.97 717.24,474.62 718.46,479.59 719.69,458.73 720.91,472.97 722.14,476.28 723.36,469.66 724.58,468.33 725.81,462.70 727.03,470.98 728.26,468.33 729.48,469.66 730.70,466.34 731.93,465.02 733.15,463.36 734.37,481.58 735.60,469.66 736.82,467.01 738.05,463.36 739.27,468.33 740.49,471.31 741.72,474.96 742.94,466.34 744.16,468.00 745.39,477.27 746.61,457.73 747.84,464.69 749.06,468.99 750.28,470.32 751.51,471.64 752.73,464.03 753.95,463.03 755.18,461.04 756.40,475.95 757.63,463.36 758.85,463.36 760.07,474.96 761.30,466.34 762.52,460.38 763.75,479.59 764.97,462.70 766.19,457.73 767.42,472.31 768.64,468.00 769.86,463.36 771.09,472.97 772.31,474.62 773.54,471.64 774.76,473.96 775.98,469.66 777.21,464.69 778.43,478.93 779.65,472.31 780.88,470.65 782.10,468.99 783.33,468.33" fill="none" stroke="#0000ff" stroke-width="1.0" stroke-linejoin="round"/>
<path d="M478.60 378.58h0M479.82 300.74h0M481.05 449.45h0M482.27 440.51h0M483.50 443.49h0M484.72 441.84h0M485.94 461.38h0M487.17 439.52h0M488.39 451.77h0M489.61 456.74h0M490.84 453.10h0M492.06 451.77h0M493.29 453.76h0M494.51 473.63h0M495.73 469.32h0M496.96 460.38h0M498.18 455.41h0M499.40 462.04h0M500.63 452.10h0M501.85 457.73h0M503.08 468.33h0M504.30 458.73h0M505.52 462.04h0M506.75 468.00h0M507.97 468.33h0M509.19 473.63h0M510.42 472.97h0M511.64 476.94h0M512.87 472.64h0M514.09 461.04h0M515.31 442.83h0M516.54 457.73h0M517.76 465.35h0M518.99 459.72h0M520.21 454.75h0M521.43 454.09h0M522.66 453.10h0M523.88 466.81h0M525.10 464.03h0M526.33 473.96h0M527.55 469.66h0M528.78 464.69h0M530.00 462.70h0M531.22 460.38h0M532.45 462.04h0M533.67 463.16h0M534.89 461.38h0M536.12 466.34h0M537.34 469.66h0M538.57 461.38h0M539.79 469.66h0M541.01 463.16h0M542.24 459.72h0M543.46 454.75h0M544.69 458.06h0M545.91 462.37h0M547.13 470.32h0M548.36 466.34h0M549.58 463.36h0M550.80 469.32h0M552.03 458.73h0M553.25 468.66h0M554.48 472.97h0M555.70 477.27h0M556.92 468.99h0M558.15 460.71h0M559.37 458.06h0M560.59 451.44h0M561.82 464.03h0M563.04 470.32h0M564.27 459.72h0M565.49 458.73h0M566.71 463.36h0M567.94 450.78h0M569.16 467.01h0M570.38 466.34h0M571.61 469.66h0M572.83 473.30h0M574.06 467.01h0M575.28 470.65h0M576.50 471.31h0M577.73 468.99h0M578.95 456.74h0M580.18 475.62h0M581.40 459.39h0M582.62 463.03h0M583.85 460.38h0M585.07 473.30h0M586.29 463.03h0M587.52 460.71h0M588.74 468.00h0M589.97 470.32h0M591.19 467.01h0M592.41 463.03h0M593.64 460.38h0M594.86 474.96h0M596.08 464.36h0M597.31 470.32h0M598.53 466.34h0M599.76 463.36h0M600.98 466.34h0M602.20 469.66h0M603.43 465.02h0M604.65 464.03h0M605.88 463.36h0M607.10 475.62h0M608.32 467.01h0M609.55 463.03h0M610.77 459.39h0M611.99 465.02h0M613.22 466.34h0M614.44 461.38h0M615.67 466.34h0M616.89 472.31h0M618.11 459.39h0M619.34 464.69h0M620.56 467.01h0M621.78 462.37h0M623.01 466.34h0M624.23 469.66h0M625.46 464.03h0M626.68 459.72h0M627.90 471.97h0M629.13 466.34h0M630.35 465.02h0M631.58 463.36h0M632.80 466.34h0M634.02 468.00h0M635.25 463.03h0M636.47 460.38h0M637.69 467.01h0M638.92 473.96h0M640.14 465.02h0M641.37 466.34h0M642.59 463.36h0M643.81 460.38h0M645.04 466.34h0M646.26 464.69h0M647.48 463.36h0M648.71 468.66h0M649.93 470.32h0M651.16 473.96h0M652.38 467.01h0M653.60 462.37h0M654.83 466.34h0M656.05 466.01h0M657.27 468.66h0M658.50 470.65h0M659.72 474.62h0M660.95 470.32h0M662.17 467.01h0M663.39 465.02h0M664.62 466.01h0M665.84 467.01h0M667.07 474.62h0M668.29 469.66h0M669.51 465.02h0M670.74 467.01h0M671.96 468.66h0M673.18 466.34h0M674.41 461.38h0M675.63 463.36h0M676.86 466.34h0M678.08 468.66h0M679.30 471.31h0M680.53 469.66h0M681.75 466.01h0M682.97 460.38h0M684.20 475.62h0M685.42 467.01h0M686.65 466.01h0M687.87 458.73h0M689.09 463.36h0M690.32 466.34h0M691.54 474.96h0M692.76 455.08h0M693.99 467.01h0M695.21 463.36h0M696.44 465.02h0M697.66 473.96h0M698.88 463.36h0M700.11 464.69h0M701.33 465.35h0M702.56 480.92h0M703.78 459.72h0M705.00 453.10h0M706.23 467.01h0M707.45 469.66h0M708.67 473.63h0M709.90 469.66h0M711.12 464.36h0M712.35 468.99h0M713.57 477.27h0M714.79 459.06h0M716.02 472.97h0M717.24 474.62h0M718.46 479.59h0M719.69 458.73h0M720.91 472.97h0M722.14 476.28h0M723.36 469.66h0M724.58 468.33h0M725.81 462.70h0M727.03 470.98h0M728.26 468.33h0M729.48 469.66h0M730.70 466.34h0M731.93 465.02h0M733.15 463.36h0M734.37 481.58h0M735.60 469.66h0M736.82 467.01h0M738.05 463.36h0M739.27 468.33h0M740.49 471.31h0M741.72 474.96h0M742.94 466.34h0M744.16 468.00h0M745.39 477.27h0M746.61 457.73h0M747.84 464.69h0M749.06 468.99h0M750.28 470.32h0M751.51 471.64h0M752.73 464.03h0M753.95 463.03h0M755.18 461.04h0M756.40 475.95h0M757.63 463.36h0M758.85 463.36h0M760.07 474.96h0M761.30 466.34h0M762.52 460.38h0M763.75 479.59h0M764.97 462.70h0M766.19 457.73h0M767.42 472.31h0M768.64 468.00h0M769.86 463.36h0M771.09 472.97h0M772.31 474.62h0M773.54 471.64h0M774.76 473.96h0M775.98 469.66h0M777.21 464.69h0M778.43 478.93h0M779.65 472.31h0M780.88 470.65h0M782.10 468.99h0M783.33 468.33h0" stroke="#0000ff" stroke-width="4.1" stroke-linecap="round" fill="none"/>
</g>
<g clip-path="url(#clip-d)">
<polyline points="478.60,425.77 479.82,454.09 481.05,458.06 482.27,452.10 483.50,447.13 484.72,431.24 485.94,419.31 487.17,429.42 488.39,422.96 489.61,428.26 490.84,420.31 492.06,416.00 493.29,413.52 494.51,408.38 495.73,402.09 496.96,396.56 498.18,397.45 499.40,401.10 500.63,403.85 501.85,406.23 503.08,408.38 504.30,410.60 505.52,413.02 506.75,415.34 507.97,417.56 509.19,419.74 510.42,421.63 511.64,422.63 512.87,422.96 514.09,422.10 515.31,419.31 516.54,416.00 517.76,414.35 518.99,413.88 520.21,415.34 521.43,417.56 522.66,419.74 523.88,422.10 525.10,425.28 526.33,429.42 527.55,434.88 528.78,438.52 530.00,441.27 531.22,443.99 532.45,446.37 533.67,448.56 534.89,450.12 536.12,451.31 537.34,451.77 538.57,451.77 539.79,451.31 541.01,449.45 542.24,447.66 543.46,444.82 544.69,439.45 545.91,433.95 547.13,427.92 548.36,423.95 549.58,420.97 550.80,418.98 552.03,417.76 553.25,417.19 554.48,417.00 555.70,417.76 556.92,418.98 558.15,420.08 559.37,421.47 560.59,423.06 561.82,424.61 563.04,426.04 564.27,426.93 565.49,426.27 566.71,424.48 567.94,422.63 569.16,421.20 570.38,420.84 571.61,421.20 572.83,422.63 574.06,425.28 575.28,428.59 576.50,431.24 577.73,433.95 578.95,436.20 580.18,437.63 581.40,438.52 582.62,439.09 583.85,437.99 585.07,436.70 586.29,435.81 587.52,434.88 588.74,434.32 589.97,433.95 591.19,433.06 592.41,431.24 593.64,428.92 594.86,426.60 596.08,425.77 597.31,424.94 598.53,423.95 599.76,420.31 600.98,413.88 602.20,408.38 603.43,405.07 604.65,403.32 605.88,402.59 607.10,402.95 608.32,404.41 609.55,408.38 610.77,413.52 611.99,418.32 613.22,422.96 614.44,427.59 615.67,432.23 616.89,435.81 618.11,438.52 619.34,440.34 620.56,441.50 621.78,442.17 623.01,442.17 624.23,441.50 625.46,440.84 626.68,439.45 627.90,437.99 629.13,436.20 630.35,434.88 631.58,433.56 632.80,432.23 634.02,430.67 635.25,429.25 636.47,426.60 637.69,423.95 638.92,420.31 640.14,417.56 641.37,414.81 642.59,412.03 643.81,409.87 645.04,408.05 646.26,406.23 647.48,403.85 648.71,402.09 649.93,401.50 651.16,402.59 652.38,408.05 653.60,414.81 654.83,418.32 656.05,420.84 657.27,422.63 658.50,424.48 659.72,425.77 660.95,426.27 662.17,425.77 663.39,424.48 664.62,422.63 665.84,420.31 667.07,417.56 668.29,414.81 669.51,412.03 670.74,410.60 671.96,409.87 673.18,410.24 674.41,412.03 675.63,414.81 676.86,417.99 678.08,421.20 679.30,424.48 680.53,427.03 681.75,429.42 682.97,431.24 684.20,431.77 685.42,430.67 686.65,428.59 687.87,425.77 689.09,422.96 690.32,420.84 691.54,419.31 692.76,418.98 693.99,420.31 695.21,423.95 696.44,428.26 697.66,431.24 698.88,433.56 700.11,432.56 701.33,428.59 702.56,422.63 703.78,416.33 705.00,408.72 706.23,399.77 707.45,393.15 708.67,385.96 709.90,378.71 711.12,374.17 712.35,372.71 713.57,373.81 714.79,379.57 716.02,382.88 717.24,384.70 718.46,389.01 719.69,393.48 720.91,398.61 722.14,403.08 723.36,405.87 724.58,406.53 725.81,405.40 727.03,403.75 728.26,403.25 729.48,403.58 730.70,402.59 731.93,400.93 733.15,398.78 734.37,397.12 735.60,397.45 736.82,399.21 738.05,399.57 739.27,401.43 740.49,404.08 741.72,405.40 742.94,405.07 744.16,404.08 745.39,405.07 746.61,405.40 747.84,402.29 749.06,399.21 750.28,398.68 751.51,401.43 752.73,403.58 753.95,404.08 755.18,403.58 756.40,402.29 757.63,401.43 758.85,400.44 760.07,399.94 761.30,399.94 762.52,401.10 763.75,402.29 764.97,402.85 766.19,403.22 767.42,404.08 768.64,407.19 769.86,410.47 771.09,411.36 772.31,411.36 773.54,411.36 774.76,411.93 775.98,412.36 777.21,412.36 778.43,410.04 779.65,407.72 780.88,405.07 782.10,403.58 783.33,402.85" fill="none" stroke="#ffa500" stroke-width="1.0" stroke-linejoin="round"/>
<path d="M476.55 425.77h4.1M477.77 454.09h4.1M479.00 458.06h4.1M480.22 452.10h4.1M481.45 447.13h4.1M482.67 431.24h4.1M483.89 419.31h4.1M485.12 429.42h4.1M486.34 422.96h4.1M487.56 428.26h4.1M488.79 420.31h4.1M490.01 416.00h4.1M491.24 413.52h4.1M492.46 408.38h4.1M493.68 402.09h4.1M494.91 396.56h4.1M496.13 397.45h4.1M497.35 401.10h4.1M498.58 403.85h4.1M499.80 406.23h4.1M501.03 408.38h4.1M502.25 410.60h4.1M503.47 413.02h4.1M504.70 415.34h4.1M505.92 417.56h4.1M507.14 419.74h4.1M508.37 421.63h4.1M509.59 422.63h4.1M510.82 422.96h4.1M512.04 422.10h4.1M513.26 419.31h4.1M514.49 416.00h4.1M515.71 414.35h4.1M516.94 413.88h4.1M518.16 415.34h4.1M519.38 417.56h4.1M520.61 419.74h4.1M521.83 422.10h4.1M523.05 425.28h4.1M524.28 429.42h4.1M525.50 434.88h4.1M526.73 438.52h4.1M527.95 441.27h4.1M529.17 443.99h4.1M530.40 446.37h4.1M531.62 448.56h4.1M532.84 450.12h4.1M534.07 451.31h4.1M535.29 451.77h4.1M536.52 451.77h4.1M537.74 451.31h4.1M538.96 449.45h4.1M540.19 447.66h4.1M541.41 444.82h4.1M542.64 439.45h4.1M543.86 433.95h4.1M545.08 427.92h4.1M546.31 423.95h4.1M547.53 420.97h4.1M548.75 418.98h4.1M549.98 417.76h4.1M551.20 417.19h4.1M552.43 417.00h4.1M553.65 417.76h4.1M554.87 418.98h4.1M556.10 420.08h4.1M557.32 421.47h4.1M558.54 423.06h4.1M559.77 424.61h4.1M560.99 426.04h4.1M562.22 426.93h4.1M563.44 426.27h4.1M564.66 424.48h4.1M565.89 422.63h4.1M567.11 421.20h4.1M568.34 420.84h4.1M569.56 421.20h4.1M570.78 422.63h4.1M572.01 425.28h4.1M573.23 428.59h4.1M574.45 431.24h4.1M575.68 433.95h4.1M576.90 436.20h4.1M578.13 437.63h4.1M579.35 438.52h4.1M580.57 439.09h4.1M581.80 437.99h4.1M583.02 436.70h4.1M584.24 435.81h4.1M585.47 434.88h4.1M586.69 434.32h4.1M587.92 433.95h4.1M589.14 433.06h4.1M590.36 431.24h4.1M591.59 428.92h4.1M592.81 426.60h4.1M594.03 425.77h4.1M595.26 424.94h4.1M596.48 423.95h4.1M597.71 420.31h4.1M598.93 413.88h4.1M600.15 408.38h4.1M601.38 405.07h4.1M602.60 403.32h4.1M603.83 402.59h4.1M605.05 402.95h4.1M606.27 404.41h4.1M607.50 408.38h4.1M608.72 413.52h4.1M609.94 418.32h4.1M611.17 422.96h4.1M612.39 427.59h4.1M613.62 432.23h4.1M614.84 435.81h4.1M616.06 438.52h4.1M617.29 440.34h4.1M618.51 441.50h4.1M619.73 442.17h4.1M620.96 442.17h4.1M622.18 441.50h4.1M623.41 440.84h4.1M624.63 439.45h4.1M625.85 437.99h4.1M627.08 436.20h4.1M628.30 434.88h4.1M629.53 433.56h4.1M630.75 432.23h4.1M631.97 430.67h4.1M633.20 429.25h4.1M634.42 426.60h4.1M635.64 423.95h4.1M636.87 420.31h4.1M638.09 417.56h4.1M639.32 414.81h4.1M640.54 412.03h4.1M641.76 409.87h4.1M642.99 408.05h4.1M644.21 406.23h4.1M645.43 403.85h4.1M646.66 402.09h4.1M647.88 401.50h4.1M649.11 402.59h4.1M650.33 408.05h4.1M651.55 414.81h4.1M652.78 418.32h4.1M654.00 420.84h4.1M655.22 422.63h4.1M656.45 424.48h4.1M657.67 425.77h4.1M658.90 426.27h4.1M660.12 425.77h4.1M661.34 424.48h4.1M662.57 422.63h4.1M663.79 420.31h4.1M665.02 417.56h4.1M666.24 414.81h4.1M667.46 412.03h4.1M668.69 410.60h4.1M669.91 409.87h4.1M671.13 410.24h4.1M672.36 412.03h4.1M673.58 414.81h4.1M674.81 417.99h4.1M676.03 421.20h4.1M677.25 424.48h4.1M678.48 427.03h4.1M679.70 429.42h4.1M680.92 431.24h4.1M682.15 431.77h4.1M683.37 430.67h4.1M684.60 428.59h4.1M685.82 425.77h4.1M687.04 422.96h4.1M688.27 420.84h4.1M689.49 419.31h4.1M690.72 418.98h4.1M691.94 420.31h4.1M693.16 423.95h4.1M694.39 428.26h4.1M695.61 431.24h4.1M696.83 433.56h4.1M698.06 432.56h4.1M699.28 428.59h4.1M700.51 422.63h4.1M701.73 416.33h4.1M702.95 408.72h4.1M704.18 399.77h4.1M705.40 393.15h4.1M706.62 385.96h4.1M707.85 378.71h4.1M709.07 374.17h4.1M710.30 372.71h4.1M711.52 373.81h4.1M712.74 379.57h4.1M713.97 382.88h4.1M715.19 384.70h4.1M716.41 389.01h4.1M717.64 393.48h4.1M718.86 398.61h4.1M720.09 403.08h4.1M721.31 405.87h4.1M722.53 406.53h4.1M723.76 405.40h4.1M724.98 403.75h4.1M726.21 403.25h4.1M727.43 403.58h4.1M728.65 402.59h4.1M729.88 400.93h4.1M731.10 398.78h4.1M732.32 397.12h4.1M733.55 397.45h4.1M734.77 399.21h4.1M736.00 399.57h4.1M737.22 401.43h4.1M738.44 404.08h4.1M739.67 405.40h4.1M740.89 405.07h4.1M742.11 404.08h4.1M743.34 405.07h4.1M744.56 405.40h4.1M745.79 402.29h4.1M747.01 399.21h4.1M748.23 398.68h4.1M749.46 401.43h4.1M750.68 403.58h4.1M751.90 404.08h4.1M753.13 403.58h4.1M754.35 402.29h4.1M755.58 401.43h4.1M756.80 400.44h4.1M758.02 399.94h4.1M759.25 399.94h4.1M760.47 401.10h4.1M761.70 402.29h4.1M762.92 402.85h4.1M764.14 403.22h4.1M765.37 404.08h4.1M766.59 407.19h4.1M767.81 410.47h4.1M769.04 411.36h4.1M770.26 411.36h4.1M771.49 411.36h4.1M772.71 411.93h4.1M773.93 412.36h4.1M775.16 412.36h4.1M776.38 410.04h4.1M777.60 407.72h4.1M778.83 405.07h4.1M780.05 403.58h4.1M781.28 402.85h4.1" stroke="#ffa500" stroke-width="4.1" fill="none"/>
</g>
<rect x="463.4" y="291.2" width="334.1" height="199.10000000000002" fill="none" stroke="#3a3a3a" stroke-width="0.6"/>
<path d="M478.60 490.30v2M539.79 490.30v2M600.98 490.30v2M662.17 490.30v2M723.36 490.30v2M784.55 490.30v2M463.40 468.00h-2M463.40 434.88h-2M463.40 401.76h-2M463.40 368.64h-2M463.40 335.52h-2M463.40 302.40h-2" stroke="#333" stroke-width="0.5" fill="none"/>
<text x="478.60" y="500.00" font-size="5.75" text-anchor="middle">0</text>
<text x="539.79" y="500.00" font-size="5.75" text-anchor="middle">50</text>
<text x="600.98" y="500.00" font-size="5.75" text-anchor="middle">100</text>
<text x="662.17" y="500.00" font-size="5.75" text-anchor="middle">150</text>
<text x="723.36" y="500.00" font-size="5.75" text-anchor="middle">200</text>
<text x="784.55" y="500.00" font-size="5.75" text-anchor="middle">250</text>
<text x="459.10" y="470.40" font-size="5.75" text-anchor="end">0.69</text>
<text x="459.10" y="437.28" font-size="5.75" text-anchor="end">0.70</text>
<text x="459.10" y="404.16" font-size="5.75" text-anchor="end">0.71</text>
<text x="459.10" y="371.04" font-size="5.75" text-anchor="end">0.72</text>
<text x="459.10" y="337.92" font-size="5.75" text-anchor="end">0.73</text>
<text x="459.10" y="304.80" font-size="5.75" text-anchor="end">0.74</text>
<text x="630.80" y="287.60" font-size="9.56" text-anchor="middle">Training and Validation Loss Over Epochs</text>
<text x="630.45" y="510.20" font-size="8.2" text-anchor="middle">Epochs</text>
<text transform="translate(442.40 391.50) rotate(-90)" font-size="8.2" text-anchor="middle">Loss</text>
<rect x="714.2" y="294.5" width="79.5" height="25.100000000000023" rx="1.4" fill="#fff" fill-opacity="0.8" stroke="#d0d0d0" stroke-width="0.6"/>
<path d="M717.00 301.03h15.2" stroke="#0000ff" stroke-width="1.0"/>
<circle cx="724.60" cy="301.03" r="2.05" fill="#0000ff"/>
<text x="737.85" y="303.43" font-size="7.0">Training Loss</text>
<path d="M717.00 312.82h15.2" stroke="#ffa500" stroke-width="1.0"/>
<rect x="722.55" y="310.77" width="4.1" height="4.1" fill="#ffa500"/>
<text x="737.85" y="315.22" font-size="7.0">Validation Loss</text>
<text transform="translate(632.0 534.4) scale(0.91 1)" class="cap" text-anchor="middle">(d)</text>
</g>
</svg>
</body></html>
